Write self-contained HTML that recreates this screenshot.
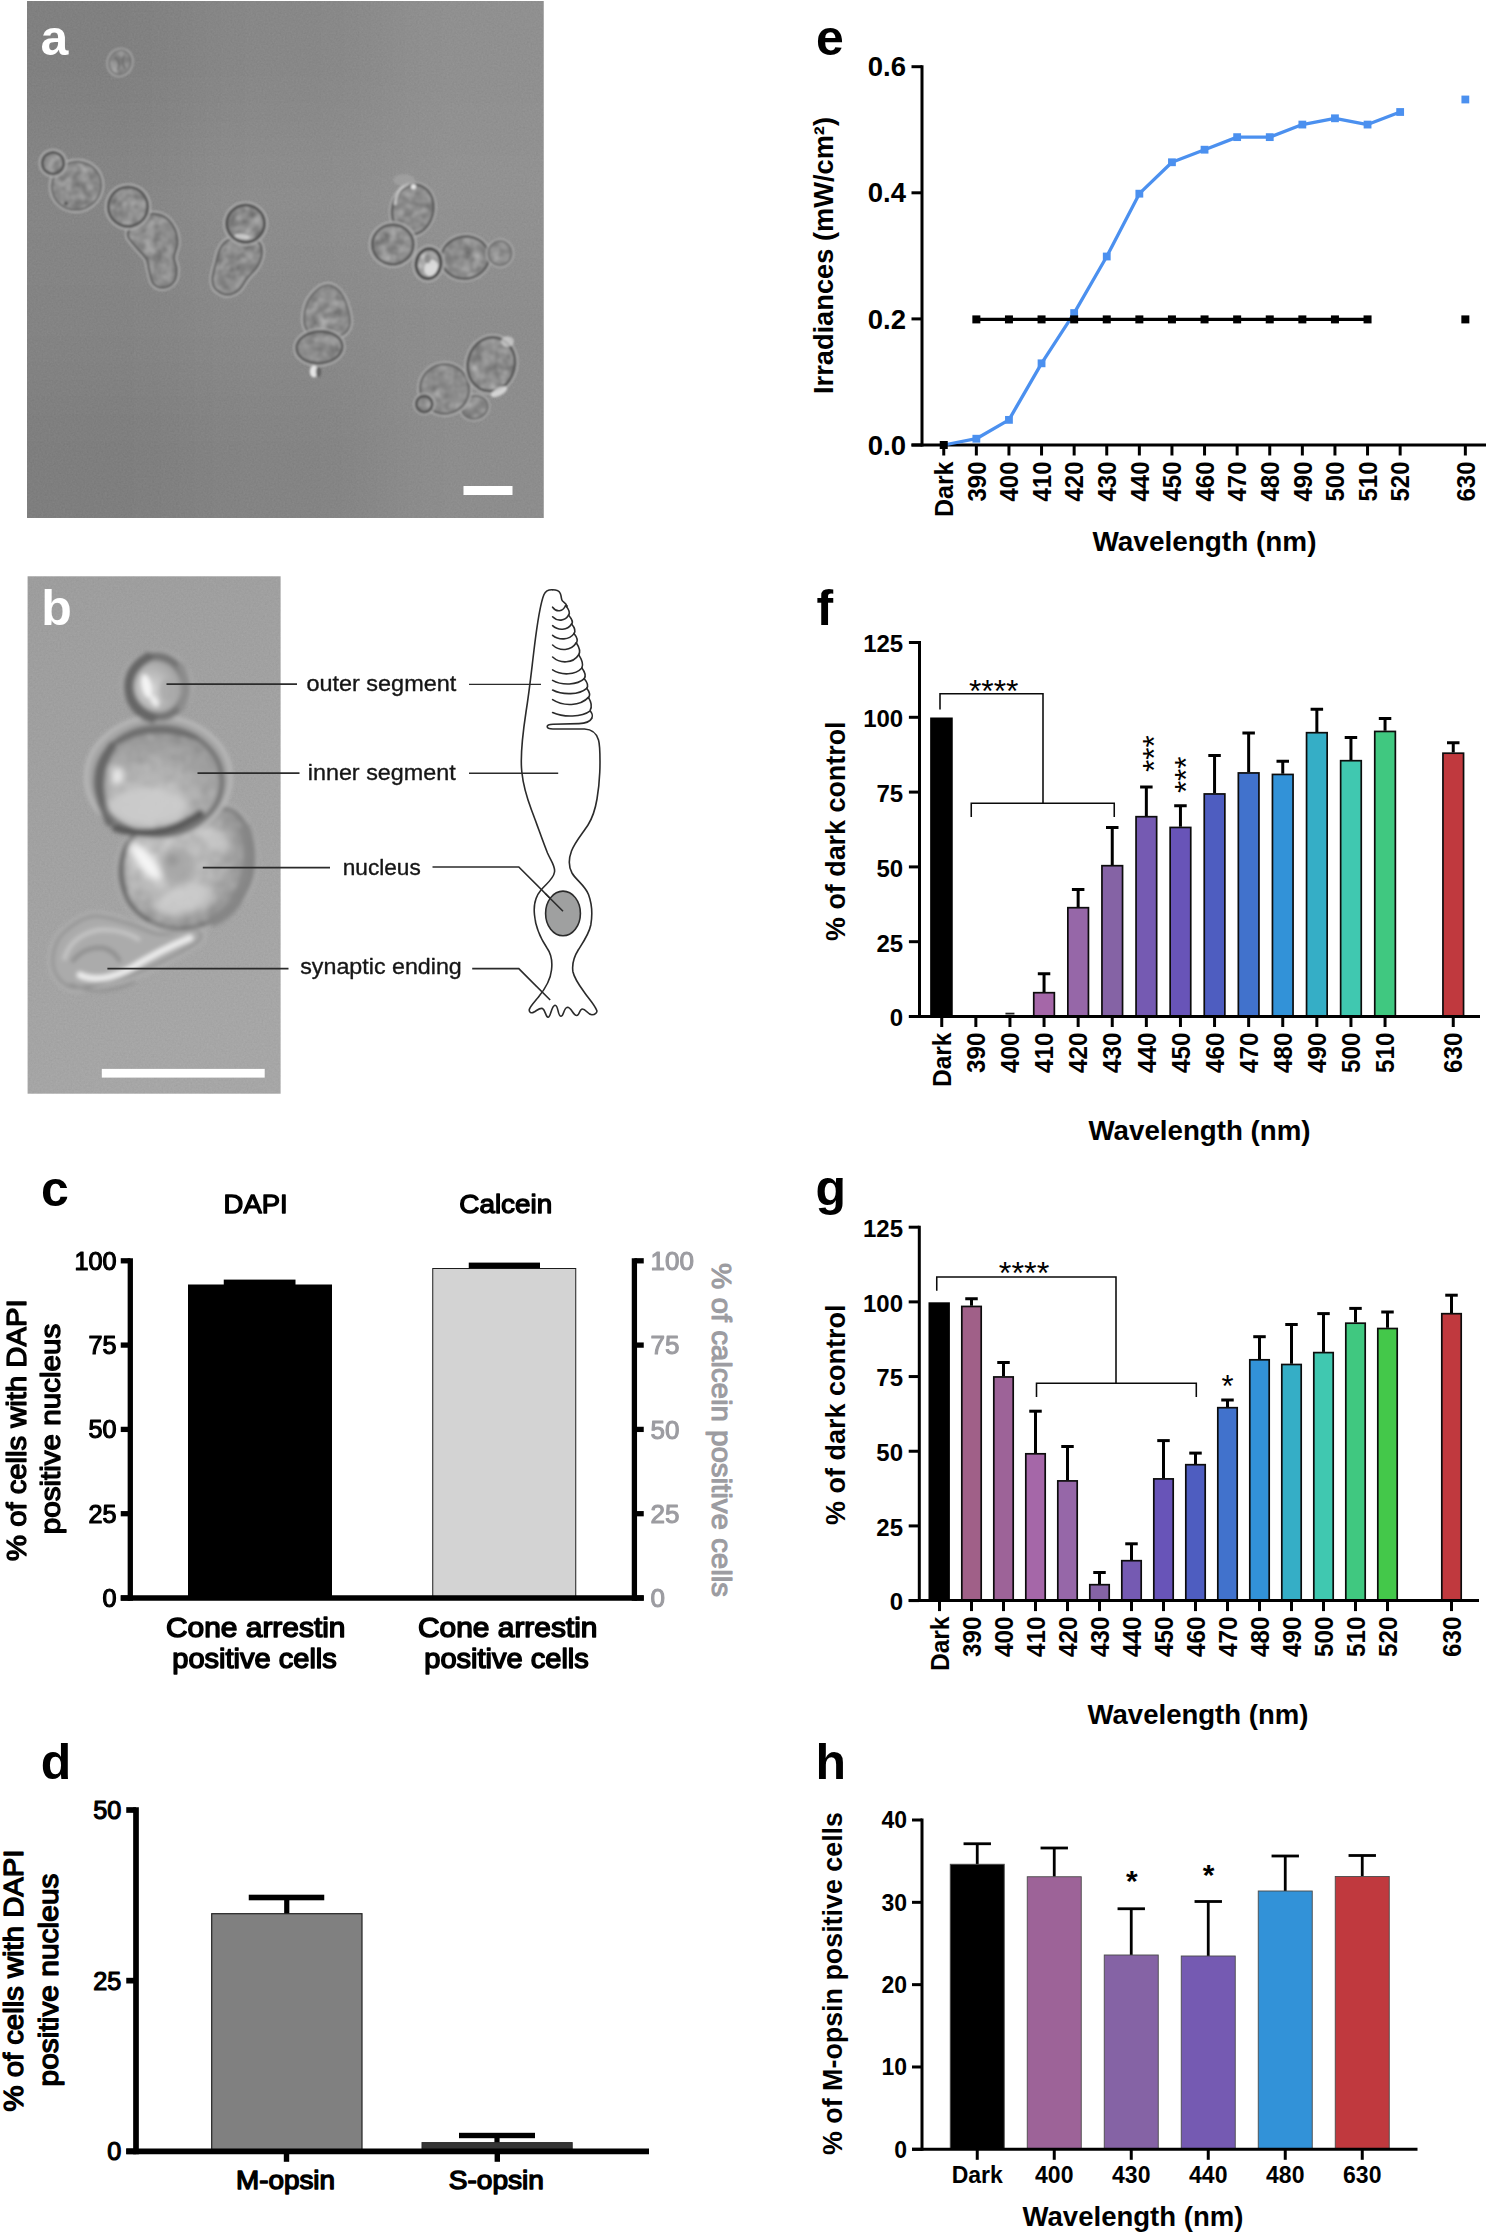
<!DOCTYPE html>
<html lang="en">
<head>
<meta charset="utf-8">
<title>Figure: isolated cone photoreceptors and wavelength-dependent phototoxicity</title>
<style>
html,body{margin:0;padding:0;background:#fff;}
body{width:1492px;height:2237px;overflow:hidden;}
svg{display:block;font-family:"Liberation Sans", Arial, Helvetica, sans-serif;}
text{white-space:pre;}
</style>
</head>
<body>
<svg width="1492" height="2237" viewBox="0 0 1492 2237">
<rect x="0" y="0" width="1492" height="2237" fill="#ffffff"/>
<g id="panel-e">
<text x="816.10" y="55.20" font-size="50" font-weight="bold" fill="#000" text-anchor="start">e</text>
<line x1="922.00" y1="65.20" x2="922.00" y2="446.50" stroke="#000" stroke-width="3.0" stroke-linecap="butt"/>
<line x1="911.50" y1="445.00" x2="1486.00" y2="445.00" stroke="#000" stroke-width="3.0" stroke-linecap="butt"/>
<line x1="911.50" y1="66.70" x2="922.00" y2="66.70" stroke="#000" stroke-width="3.0" stroke-linecap="butt"/>
<text x="906.00" y="76.30" font-size="27.5" font-weight="bold" fill="#000" text-anchor="end">0.6</text>
<line x1="911.50" y1="192.80" x2="922.00" y2="192.80" stroke="#000" stroke-width="3.0" stroke-linecap="butt"/>
<text x="906.00" y="202.40" font-size="27.5" font-weight="bold" fill="#000" text-anchor="end">0.4</text>
<line x1="911.50" y1="318.90" x2="922.00" y2="318.90" stroke="#000" stroke-width="3.0" stroke-linecap="butt"/>
<text x="906.00" y="328.50" font-size="27.5" font-weight="bold" fill="#000" text-anchor="end">0.2</text>
<line x1="911.50" y1="445.00" x2="922.00" y2="445.00" stroke="#000" stroke-width="3.0" stroke-linecap="butt"/>
<text x="906.00" y="454.60" font-size="27.5" font-weight="bold" fill="#000" text-anchor="end">0.0</text>
<line x1="943.75" y1="445.00" x2="943.75" y2="455.50" stroke="#000" stroke-width="3.0" stroke-linecap="butt"/>
<line x1="976.35" y1="445.00" x2="976.35" y2="455.50" stroke="#000" stroke-width="3.0" stroke-linecap="butt"/>
<line x1="1008.95" y1="445.00" x2="1008.95" y2="455.50" stroke="#000" stroke-width="3.0" stroke-linecap="butt"/>
<line x1="1041.55" y1="445.00" x2="1041.55" y2="455.50" stroke="#000" stroke-width="3.0" stroke-linecap="butt"/>
<line x1="1074.15" y1="445.00" x2="1074.15" y2="455.50" stroke="#000" stroke-width="3.0" stroke-linecap="butt"/>
<line x1="1106.75" y1="445.00" x2="1106.75" y2="455.50" stroke="#000" stroke-width="3.0" stroke-linecap="butt"/>
<line x1="1139.35" y1="445.00" x2="1139.35" y2="455.50" stroke="#000" stroke-width="3.0" stroke-linecap="butt"/>
<line x1="1171.95" y1="445.00" x2="1171.95" y2="455.50" stroke="#000" stroke-width="3.0" stroke-linecap="butt"/>
<line x1="1204.55" y1="445.00" x2="1204.55" y2="455.50" stroke="#000" stroke-width="3.0" stroke-linecap="butt"/>
<line x1="1237.15" y1="445.00" x2="1237.15" y2="455.50" stroke="#000" stroke-width="3.0" stroke-linecap="butt"/>
<line x1="1269.75" y1="445.00" x2="1269.75" y2="455.50" stroke="#000" stroke-width="3.0" stroke-linecap="butt"/>
<line x1="1302.35" y1="445.00" x2="1302.35" y2="455.50" stroke="#000" stroke-width="3.0" stroke-linecap="butt"/>
<line x1="1334.95" y1="445.00" x2="1334.95" y2="455.50" stroke="#000" stroke-width="3.0" stroke-linecap="butt"/>
<line x1="1367.55" y1="445.00" x2="1367.55" y2="455.50" stroke="#000" stroke-width="3.0" stroke-linecap="butt"/>
<line x1="1400.15" y1="445.00" x2="1400.15" y2="455.50" stroke="#000" stroke-width="3.0" stroke-linecap="butt"/>
<line x1="1465.35" y1="445.00" x2="1465.35" y2="455.50" stroke="#000" stroke-width="3.0" stroke-linecap="butt"/>
<text transform="translate(952.95,461.50) rotate(-90)" font-size="26" font-weight="bold" fill="#000" text-anchor="end" textLength="55.5" lengthAdjust="spacingAndGlyphs">Dark</text>
<text transform="translate(985.55,461.50) rotate(-90)" font-size="26" font-weight="bold" fill="#000" text-anchor="end" textLength="40.0" lengthAdjust="spacingAndGlyphs">390</text>
<text transform="translate(1018.15,461.50) rotate(-90)" font-size="26" font-weight="bold" fill="#000" text-anchor="end" textLength="40.0" lengthAdjust="spacingAndGlyphs">400</text>
<text transform="translate(1050.75,461.50) rotate(-90)" font-size="26" font-weight="bold" fill="#000" text-anchor="end" textLength="40.0" lengthAdjust="spacingAndGlyphs">410</text>
<text transform="translate(1083.35,461.50) rotate(-90)" font-size="26" font-weight="bold" fill="#000" text-anchor="end" textLength="40.0" lengthAdjust="spacingAndGlyphs">420</text>
<text transform="translate(1115.95,461.50) rotate(-90)" font-size="26" font-weight="bold" fill="#000" text-anchor="end" textLength="40.0" lengthAdjust="spacingAndGlyphs">430</text>
<text transform="translate(1148.55,461.50) rotate(-90)" font-size="26" font-weight="bold" fill="#000" text-anchor="end" textLength="40.0" lengthAdjust="spacingAndGlyphs">440</text>
<text transform="translate(1181.15,461.50) rotate(-90)" font-size="26" font-weight="bold" fill="#000" text-anchor="end" textLength="40.0" lengthAdjust="spacingAndGlyphs">450</text>
<text transform="translate(1213.75,461.50) rotate(-90)" font-size="26" font-weight="bold" fill="#000" text-anchor="end" textLength="40.0" lengthAdjust="spacingAndGlyphs">460</text>
<text transform="translate(1246.35,461.50) rotate(-90)" font-size="26" font-weight="bold" fill="#000" text-anchor="end" textLength="40.0" lengthAdjust="spacingAndGlyphs">470</text>
<text transform="translate(1278.95,461.50) rotate(-90)" font-size="26" font-weight="bold" fill="#000" text-anchor="end" textLength="40.0" lengthAdjust="spacingAndGlyphs">480</text>
<text transform="translate(1311.55,461.50) rotate(-90)" font-size="26" font-weight="bold" fill="#000" text-anchor="end" textLength="40.0" lengthAdjust="spacingAndGlyphs">490</text>
<text transform="translate(1344.15,461.50) rotate(-90)" font-size="26" font-weight="bold" fill="#000" text-anchor="end" textLength="40.0" lengthAdjust="spacingAndGlyphs">500</text>
<text transform="translate(1376.75,461.50) rotate(-90)" font-size="26" font-weight="bold" fill="#000" text-anchor="end" textLength="40.0" lengthAdjust="spacingAndGlyphs">510</text>
<text transform="translate(1409.35,461.50) rotate(-90)" font-size="26" font-weight="bold" fill="#000" text-anchor="end" textLength="40.0" lengthAdjust="spacingAndGlyphs">520</text>
<text transform="translate(1474.55,461.50) rotate(-90)" font-size="26" font-weight="bold" fill="#000" text-anchor="end" textLength="40.0" lengthAdjust="spacingAndGlyphs">630</text>
<text x="1204.50" y="551.00" font-size="27" font-weight="bold" fill="#000" text-anchor="middle" textLength="224" lengthAdjust="spacingAndGlyphs">Wavelength (nm)</text>
<text transform="translate(833.30,255.50) rotate(-90)" font-size="27" font-weight="bold" fill="#000" text-anchor="middle" textLength="277" lengthAdjust="spacingAndGlyphs">Irradiances (mW/cm²)</text>
<polyline points="943.75,445.00 976.35,438.72 1008.95,419.87 1041.55,363.32 1074.15,313.06 1106.75,256.51 1139.35,193.68 1171.95,162.27 1204.55,149.70 1237.15,137.14 1269.75,137.14 1302.35,124.57 1334.95,118.29 1367.55,124.57 1400.15,112.00" fill="none" stroke="#4b90ef" stroke-width="3.3" stroke-linejoin="round"/>
<rect x="972.45" y="434.82" width="7.80" height="7.80" fill="#4b90ef"/>
<rect x="1005.05" y="415.97" width="7.80" height="7.80" fill="#4b90ef"/>
<rect x="1037.65" y="359.42" width="7.80" height="7.80" fill="#4b90ef"/>
<rect x="1070.25" y="309.16" width="7.80" height="7.80" fill="#4b90ef"/>
<rect x="1102.85" y="252.61" width="7.80" height="7.80" fill="#4b90ef"/>
<rect x="1135.45" y="189.78" width="7.80" height="7.80" fill="#4b90ef"/>
<rect x="1168.05" y="158.37" width="7.80" height="7.80" fill="#4b90ef"/>
<rect x="1200.65" y="145.80" width="7.80" height="7.80" fill="#4b90ef"/>
<rect x="1233.25" y="133.24" width="7.80" height="7.80" fill="#4b90ef"/>
<rect x="1265.85" y="133.24" width="7.80" height="7.80" fill="#4b90ef"/>
<rect x="1298.45" y="120.67" width="7.80" height="7.80" fill="#4b90ef"/>
<rect x="1331.05" y="114.39" width="7.80" height="7.80" fill="#4b90ef"/>
<rect x="1363.65" y="120.67" width="7.80" height="7.80" fill="#4b90ef"/>
<rect x="1396.25" y="108.10" width="7.80" height="7.80" fill="#4b90ef"/>
<rect x="1461.45" y="95.59" width="7.80" height="7.80" fill="#4b90ef"/>
<line x1="976.35" y1="319.40" x2="1367.55" y2="319.40" stroke="#000" stroke-width="3.2" stroke-linecap="butt"/>
<rect x="972.35" y="315.40" width="8.00" height="8.00" fill="#000"/>
<rect x="1004.95" y="315.40" width="8.00" height="8.00" fill="#000"/>
<rect x="1037.55" y="315.40" width="8.00" height="8.00" fill="#000"/>
<rect x="1070.15" y="315.40" width="8.00" height="8.00" fill="#000"/>
<rect x="1102.75" y="315.40" width="8.00" height="8.00" fill="#000"/>
<rect x="1135.35" y="315.40" width="8.00" height="8.00" fill="#000"/>
<rect x="1167.95" y="315.40" width="8.00" height="8.00" fill="#000"/>
<rect x="1200.55" y="315.40" width="8.00" height="8.00" fill="#000"/>
<rect x="1233.15" y="315.40" width="8.00" height="8.00" fill="#000"/>
<rect x="1265.75" y="315.40" width="8.00" height="8.00" fill="#000"/>
<rect x="1298.35" y="315.40" width="8.00" height="8.00" fill="#000"/>
<rect x="1330.95" y="315.40" width="8.00" height="8.00" fill="#000"/>
<rect x="1363.55" y="315.40" width="8.00" height="8.00" fill="#000"/>
<rect x="1461.35" y="315.40" width="8.00" height="8.00" fill="#000"/>
<rect x="939.75" y="441.00" width="8.00" height="8.00" fill="#000"/>
</g>
<g id="panel-f">
<text x="816.40" y="624.90" font-size="50" font-weight="bold" fill="#000" text-anchor="start">f</text>
<rect x="930.15" y="717.50" width="22.60" height="299.00" fill="#000"/>
<line x1="1044.05" y1="973.75" x2="1044.05" y2="992.00" stroke="#000" stroke-width="3.0" stroke-linecap="butt"/>
<line x1="1037.80" y1="973.75" x2="1050.30" y2="973.75" stroke="#000" stroke-width="3.0" stroke-linecap="butt"/>
<rect x="1033.75" y="992.70" width="20.60" height="23.80" fill="#a567a8" stroke="#0c0c0c" stroke-width="1.7"/>
<line x1="1078.15" y1="889.50" x2="1078.15" y2="907.00" stroke="#000" stroke-width="3.0" stroke-linecap="butt"/>
<line x1="1071.90" y1="889.50" x2="1084.40" y2="889.50" stroke="#000" stroke-width="3.0" stroke-linecap="butt"/>
<rect x="1067.85" y="907.70" width="20.60" height="108.80" fill="#9667a8" stroke="#0c0c0c" stroke-width="1.7"/>
<line x1="1112.25" y1="827.50" x2="1112.25" y2="865.00" stroke="#000" stroke-width="3.0" stroke-linecap="butt"/>
<line x1="1106.00" y1="827.50" x2="1118.50" y2="827.50" stroke="#000" stroke-width="3.0" stroke-linecap="butt"/>
<rect x="1101.95" y="865.70" width="20.60" height="150.80" fill="#8563a5" stroke="#0c0c0c" stroke-width="1.7"/>
<line x1="1146.35" y1="787.00" x2="1146.35" y2="816.00" stroke="#000" stroke-width="3.0" stroke-linecap="butt"/>
<line x1="1140.10" y1="787.00" x2="1152.60" y2="787.00" stroke="#000" stroke-width="3.0" stroke-linecap="butt"/>
<rect x="1136.05" y="816.70" width="20.60" height="199.80" fill="#755ab2" stroke="#0c0c0c" stroke-width="1.7"/>
<line x1="1180.45" y1="805.75" x2="1180.45" y2="826.75" stroke="#000" stroke-width="3.0" stroke-linecap="butt"/>
<line x1="1174.20" y1="805.75" x2="1186.70" y2="805.75" stroke="#000" stroke-width="3.0" stroke-linecap="butt"/>
<rect x="1170.15" y="827.45" width="20.60" height="189.05" fill="#6854b8" stroke="#0c0c0c" stroke-width="1.7"/>
<line x1="1214.55" y1="755.50" x2="1214.55" y2="793.25" stroke="#000" stroke-width="3.0" stroke-linecap="butt"/>
<line x1="1208.30" y1="755.50" x2="1220.80" y2="755.50" stroke="#000" stroke-width="3.0" stroke-linecap="butt"/>
<rect x="1204.25" y="793.95" width="20.60" height="222.55" fill="#4e5dc0" stroke="#0c0c0c" stroke-width="1.7"/>
<line x1="1248.65" y1="733.00" x2="1248.65" y2="772.25" stroke="#000" stroke-width="3.0" stroke-linecap="butt"/>
<line x1="1242.40" y1="733.00" x2="1254.90" y2="733.00" stroke="#000" stroke-width="3.0" stroke-linecap="butt"/>
<rect x="1238.35" y="772.95" width="20.60" height="243.55" fill="#4172cc" stroke="#0c0c0c" stroke-width="1.7"/>
<line x1="1282.75" y1="761.25" x2="1282.75" y2="773.75" stroke="#000" stroke-width="3.0" stroke-linecap="butt"/>
<line x1="1276.50" y1="761.25" x2="1289.00" y2="761.25" stroke="#000" stroke-width="3.0" stroke-linecap="butt"/>
<rect x="1272.45" y="774.45" width="20.60" height="242.05" fill="#3292d8" stroke="#0c0c0c" stroke-width="1.7"/>
<line x1="1316.85" y1="709.25" x2="1316.85" y2="732.00" stroke="#000" stroke-width="3.0" stroke-linecap="butt"/>
<line x1="1310.60" y1="709.25" x2="1323.10" y2="709.25" stroke="#000" stroke-width="3.0" stroke-linecap="butt"/>
<rect x="1306.55" y="732.70" width="20.60" height="283.80" fill="#35aec6" stroke="#0c0c0c" stroke-width="1.7"/>
<line x1="1350.95" y1="737.50" x2="1350.95" y2="760.00" stroke="#000" stroke-width="3.0" stroke-linecap="butt"/>
<line x1="1344.70" y1="737.50" x2="1357.20" y2="737.50" stroke="#000" stroke-width="3.0" stroke-linecap="butt"/>
<rect x="1340.65" y="760.70" width="20.60" height="255.80" fill="#40c8b0" stroke="#0c0c0c" stroke-width="1.7"/>
<line x1="1385.05" y1="718.50" x2="1385.05" y2="730.75" stroke="#000" stroke-width="3.0" stroke-linecap="butt"/>
<line x1="1378.80" y1="718.50" x2="1391.30" y2="718.50" stroke="#000" stroke-width="3.0" stroke-linecap="butt"/>
<rect x="1374.75" y="731.45" width="20.60" height="285.05" fill="#40c880" stroke="#0c0c0c" stroke-width="1.7"/>
<line x1="1453.25" y1="742.75" x2="1453.25" y2="752.50" stroke="#000" stroke-width="3.0" stroke-linecap="butt"/>
<line x1="1447.00" y1="742.75" x2="1459.50" y2="742.75" stroke="#000" stroke-width="3.0" stroke-linecap="butt"/>
<rect x="1442.95" y="753.20" width="20.60" height="263.30" fill="#c0393e" stroke="#0c0c0c" stroke-width="1.7"/>
<line x1="919.50" y1="641.00" x2="919.50" y2="1018.00" stroke="#000" stroke-width="3.0" stroke-linecap="butt"/>
<line x1="908.90" y1="1016.50" x2="1480.00" y2="1016.50" stroke="#000" stroke-width="3.0" stroke-linecap="butt"/>
<line x1="908.90" y1="642.50" x2="919.50" y2="642.50" stroke="#000" stroke-width="3.0" stroke-linecap="butt"/>
<text x="903.20" y="652.30" font-size="24" font-weight="bold" fill="#000" text-anchor="end">125</text>
<line x1="908.90" y1="717.30" x2="919.50" y2="717.30" stroke="#000" stroke-width="3.0" stroke-linecap="butt"/>
<text x="903.20" y="727.10" font-size="24" font-weight="bold" fill="#000" text-anchor="end">100</text>
<line x1="908.90" y1="792.10" x2="919.50" y2="792.10" stroke="#000" stroke-width="3.0" stroke-linecap="butt"/>
<text x="903.20" y="801.90" font-size="24" font-weight="bold" fill="#000" text-anchor="end">75</text>
<line x1="908.90" y1="866.90" x2="919.50" y2="866.90" stroke="#000" stroke-width="3.0" stroke-linecap="butt"/>
<text x="903.20" y="876.70" font-size="24" font-weight="bold" fill="#000" text-anchor="end">50</text>
<line x1="908.90" y1="941.70" x2="919.50" y2="941.70" stroke="#000" stroke-width="3.0" stroke-linecap="butt"/>
<text x="903.20" y="951.50" font-size="24" font-weight="bold" fill="#000" text-anchor="end">25</text>
<line x1="908.90" y1="1016.50" x2="919.50" y2="1016.50" stroke="#000" stroke-width="3.0" stroke-linecap="butt"/>
<text x="903.20" y="1026.30" font-size="24" font-weight="bold" fill="#000" text-anchor="end">0</text>
<line x1="941.75" y1="1016.50" x2="941.75" y2="1027.00" stroke="#000" stroke-width="3.0" stroke-linecap="butt"/>
<line x1="975.85" y1="1016.50" x2="975.85" y2="1027.00" stroke="#000" stroke-width="3.0" stroke-linecap="butt"/>
<line x1="1009.95" y1="1016.50" x2="1009.95" y2="1027.00" stroke="#000" stroke-width="3.0" stroke-linecap="butt"/>
<line x1="1044.05" y1="1016.50" x2="1044.05" y2="1027.00" stroke="#000" stroke-width="3.0" stroke-linecap="butt"/>
<line x1="1078.15" y1="1016.50" x2="1078.15" y2="1027.00" stroke="#000" stroke-width="3.0" stroke-linecap="butt"/>
<line x1="1112.25" y1="1016.50" x2="1112.25" y2="1027.00" stroke="#000" stroke-width="3.0" stroke-linecap="butt"/>
<line x1="1146.35" y1="1016.50" x2="1146.35" y2="1027.00" stroke="#000" stroke-width="3.0" stroke-linecap="butt"/>
<line x1="1180.45" y1="1016.50" x2="1180.45" y2="1027.00" stroke="#000" stroke-width="3.0" stroke-linecap="butt"/>
<line x1="1214.55" y1="1016.50" x2="1214.55" y2="1027.00" stroke="#000" stroke-width="3.0" stroke-linecap="butt"/>
<line x1="1248.65" y1="1016.50" x2="1248.65" y2="1027.00" stroke="#000" stroke-width="3.0" stroke-linecap="butt"/>
<line x1="1282.75" y1="1016.50" x2="1282.75" y2="1027.00" stroke="#000" stroke-width="3.0" stroke-linecap="butt"/>
<line x1="1316.85" y1="1016.50" x2="1316.85" y2="1027.00" stroke="#000" stroke-width="3.0" stroke-linecap="butt"/>
<line x1="1350.95" y1="1016.50" x2="1350.95" y2="1027.00" stroke="#000" stroke-width="3.0" stroke-linecap="butt"/>
<line x1="1385.05" y1="1016.50" x2="1385.05" y2="1027.00" stroke="#000" stroke-width="3.0" stroke-linecap="butt"/>
<line x1="1453.25" y1="1016.50" x2="1453.25" y2="1027.00" stroke="#000" stroke-width="3.0" stroke-linecap="butt"/>
<text transform="translate(950.95,1032.50) rotate(-90)" font-size="26" font-weight="bold" fill="#000" text-anchor="end" textLength="54.5" lengthAdjust="spacingAndGlyphs">Dark</text>
<text transform="translate(985.05,1032.50) rotate(-90)" font-size="26" font-weight="bold" fill="#000" text-anchor="end" textLength="40.5" lengthAdjust="spacingAndGlyphs">390</text>
<text transform="translate(1019.15,1032.50) rotate(-90)" font-size="26" font-weight="bold" fill="#000" text-anchor="end" textLength="40.5" lengthAdjust="spacingAndGlyphs">400</text>
<text transform="translate(1053.25,1032.50) rotate(-90)" font-size="26" font-weight="bold" fill="#000" text-anchor="end" textLength="40.5" lengthAdjust="spacingAndGlyphs">410</text>
<text transform="translate(1087.35,1032.50) rotate(-90)" font-size="26" font-weight="bold" fill="#000" text-anchor="end" textLength="40.5" lengthAdjust="spacingAndGlyphs">420</text>
<text transform="translate(1121.45,1032.50) rotate(-90)" font-size="26" font-weight="bold" fill="#000" text-anchor="end" textLength="40.5" lengthAdjust="spacingAndGlyphs">430</text>
<text transform="translate(1155.55,1032.50) rotate(-90)" font-size="26" font-weight="bold" fill="#000" text-anchor="end" textLength="40.5" lengthAdjust="spacingAndGlyphs">440</text>
<text transform="translate(1189.65,1032.50) rotate(-90)" font-size="26" font-weight="bold" fill="#000" text-anchor="end" textLength="40.5" lengthAdjust="spacingAndGlyphs">450</text>
<text transform="translate(1223.75,1032.50) rotate(-90)" font-size="26" font-weight="bold" fill="#000" text-anchor="end" textLength="40.5" lengthAdjust="spacingAndGlyphs">460</text>
<text transform="translate(1257.85,1032.50) rotate(-90)" font-size="26" font-weight="bold" fill="#000" text-anchor="end" textLength="40.5" lengthAdjust="spacingAndGlyphs">470</text>
<text transform="translate(1291.95,1032.50) rotate(-90)" font-size="26" font-weight="bold" fill="#000" text-anchor="end" textLength="40.5" lengthAdjust="spacingAndGlyphs">480</text>
<text transform="translate(1326.05,1032.50) rotate(-90)" font-size="26" font-weight="bold" fill="#000" text-anchor="end" textLength="40.5" lengthAdjust="spacingAndGlyphs">490</text>
<text transform="translate(1360.15,1032.50) rotate(-90)" font-size="26" font-weight="bold" fill="#000" text-anchor="end" textLength="40.5" lengthAdjust="spacingAndGlyphs">500</text>
<text transform="translate(1394.25,1032.50) rotate(-90)" font-size="26" font-weight="bold" fill="#000" text-anchor="end" textLength="40.5" lengthAdjust="spacingAndGlyphs">510</text>
<text transform="translate(1462.45,1032.50) rotate(-90)" font-size="26" font-weight="bold" fill="#000" text-anchor="end" textLength="40.5" lengthAdjust="spacingAndGlyphs">630</text>
<text x="1199.50" y="1140.00" font-size="27" font-weight="bold" fill="#000" text-anchor="middle" textLength="222" lengthAdjust="spacingAndGlyphs">Wavelength (nm)</text>
<text transform="translate(844.50,831.20) rotate(-90)" font-size="27" font-weight="bold" fill="#000" text-anchor="middle" textLength="219.5" lengthAdjust="spacingAndGlyphs">% of dark control</text>
</g>
<line x1="1005.45" y1="1013.60" x2="1014.45" y2="1013.60" stroke="#222" stroke-width="1.8" stroke-linecap="butt"/>
<g id="f-brackets" fill="none" stroke="#0a0a0a" stroke-width="1.55">
<path d="M940,709.5 V693.75 H1043 V803.25"/>
<path d="M971.25,817 V803.25 H1114.25 V817"/>
</g>
<text x="969.00" y="701.60" font-size="31" font-weight="normal" fill="#000" text-anchor="start" textLength="49.5" lengthAdjust="spacingAndGlyphs">****</text>
<text transform="translate(1165.10,771.90) rotate(-90)" font-size="31" font-weight="normal" fill="#000" text-anchor="start" textLength="36.5" lengthAdjust="spacingAndGlyphs">***</text>
<text transform="translate(1196.60,793.10) rotate(-90)" font-size="31" font-weight="normal" fill="#000" text-anchor="start" textLength="36.5" lengthAdjust="spacingAndGlyphs">***</text>
<g id="panel-g">
<text x="815.60" y="1204.50" font-size="50" font-weight="bold" fill="#000" text-anchor="start">g</text>
<rect x="928.50" y="1302.30" width="21.40" height="298.30" fill="#000"/>
<line x1="971.50" y1="1298.75" x2="971.50" y2="1305.75" stroke="#000" stroke-width="3.0" stroke-linecap="butt"/>
<line x1="965.25" y1="1298.75" x2="977.75" y2="1298.75" stroke="#000" stroke-width="3.0" stroke-linecap="butt"/>
<rect x="961.80" y="1306.45" width="19.40" height="294.15" fill="#a06088" stroke="#0c0c0c" stroke-width="1.7"/>
<line x1="1003.50" y1="1362.50" x2="1003.50" y2="1376.25" stroke="#000" stroke-width="3.0" stroke-linecap="butt"/>
<line x1="997.25" y1="1362.50" x2="1009.75" y2="1362.50" stroke="#000" stroke-width="3.0" stroke-linecap="butt"/>
<rect x="993.80" y="1376.95" width="19.40" height="223.65" fill="#9d6398" stroke="#0c0c0c" stroke-width="1.7"/>
<line x1="1035.50" y1="1411.20" x2="1035.50" y2="1453.10" stroke="#000" stroke-width="3.0" stroke-linecap="butt"/>
<line x1="1029.25" y1="1411.20" x2="1041.75" y2="1411.20" stroke="#000" stroke-width="3.0" stroke-linecap="butt"/>
<rect x="1025.80" y="1453.80" width="19.40" height="146.80" fill="#a567a8" stroke="#0c0c0c" stroke-width="1.7"/>
<line x1="1067.50" y1="1446.50" x2="1067.50" y2="1480.20" stroke="#000" stroke-width="3.0" stroke-linecap="butt"/>
<line x1="1061.25" y1="1446.50" x2="1073.75" y2="1446.50" stroke="#000" stroke-width="3.0" stroke-linecap="butt"/>
<rect x="1057.80" y="1480.90" width="19.40" height="119.70" fill="#9667a8" stroke="#0c0c0c" stroke-width="1.7"/>
<line x1="1099.50" y1="1572.50" x2="1099.50" y2="1584.00" stroke="#000" stroke-width="3.0" stroke-linecap="butt"/>
<line x1="1093.25" y1="1572.50" x2="1105.75" y2="1572.50" stroke="#000" stroke-width="3.0" stroke-linecap="butt"/>
<rect x="1089.80" y="1584.70" width="19.40" height="15.90" fill="#8563a5" stroke="#0c0c0c" stroke-width="1.7"/>
<line x1="1131.50" y1="1543.80" x2="1131.50" y2="1560.00" stroke="#000" stroke-width="3.0" stroke-linecap="butt"/>
<line x1="1125.25" y1="1543.80" x2="1137.75" y2="1543.80" stroke="#000" stroke-width="3.0" stroke-linecap="butt"/>
<rect x="1121.80" y="1560.70" width="19.40" height="39.90" fill="#755ab2" stroke="#0c0c0c" stroke-width="1.7"/>
<line x1="1163.50" y1="1440.60" x2="1163.50" y2="1478.20" stroke="#000" stroke-width="3.0" stroke-linecap="butt"/>
<line x1="1157.25" y1="1440.60" x2="1169.75" y2="1440.60" stroke="#000" stroke-width="3.0" stroke-linecap="butt"/>
<rect x="1153.80" y="1478.90" width="19.40" height="121.70" fill="#6854b8" stroke="#0c0c0c" stroke-width="1.7"/>
<line x1="1195.50" y1="1453.10" x2="1195.50" y2="1464.00" stroke="#000" stroke-width="3.0" stroke-linecap="butt"/>
<line x1="1189.25" y1="1453.10" x2="1201.75" y2="1453.10" stroke="#000" stroke-width="3.0" stroke-linecap="butt"/>
<rect x="1185.80" y="1464.70" width="19.40" height="135.90" fill="#4e5dc0" stroke="#0c0c0c" stroke-width="1.7"/>
<line x1="1227.50" y1="1400.00" x2="1227.50" y2="1407.00" stroke="#000" stroke-width="3.0" stroke-linecap="butt"/>
<line x1="1221.25" y1="1400.00" x2="1233.75" y2="1400.00" stroke="#000" stroke-width="3.0" stroke-linecap="butt"/>
<rect x="1217.80" y="1407.70" width="19.40" height="192.90" fill="#4172cc" stroke="#0c0c0c" stroke-width="1.7"/>
<line x1="1259.50" y1="1336.70" x2="1259.50" y2="1359.10" stroke="#000" stroke-width="3.0" stroke-linecap="butt"/>
<line x1="1253.25" y1="1336.70" x2="1265.75" y2="1336.70" stroke="#000" stroke-width="3.0" stroke-linecap="butt"/>
<rect x="1249.80" y="1359.80" width="19.40" height="240.80" fill="#3292d8" stroke="#0c0c0c" stroke-width="1.7"/>
<line x1="1291.50" y1="1324.50" x2="1291.50" y2="1363.80" stroke="#000" stroke-width="3.0" stroke-linecap="butt"/>
<line x1="1285.25" y1="1324.50" x2="1297.75" y2="1324.50" stroke="#000" stroke-width="3.0" stroke-linecap="butt"/>
<rect x="1281.80" y="1364.50" width="19.40" height="236.10" fill="#35aec6" stroke="#0c0c0c" stroke-width="1.7"/>
<line x1="1323.50" y1="1313.60" x2="1323.50" y2="1351.90" stroke="#000" stroke-width="3.0" stroke-linecap="butt"/>
<line x1="1317.25" y1="1313.60" x2="1329.75" y2="1313.60" stroke="#000" stroke-width="3.0" stroke-linecap="butt"/>
<rect x="1313.80" y="1352.60" width="19.40" height="248.00" fill="#40c8b0" stroke="#0c0c0c" stroke-width="1.7"/>
<line x1="1355.50" y1="1308.40" x2="1355.50" y2="1322.50" stroke="#000" stroke-width="3.0" stroke-linecap="butt"/>
<line x1="1349.25" y1="1308.40" x2="1361.75" y2="1308.40" stroke="#000" stroke-width="3.0" stroke-linecap="butt"/>
<rect x="1345.80" y="1323.20" width="19.40" height="277.40" fill="#40c880" stroke="#0c0c0c" stroke-width="1.7"/>
<line x1="1387.50" y1="1312.00" x2="1387.50" y2="1327.80" stroke="#000" stroke-width="3.0" stroke-linecap="butt"/>
<line x1="1381.25" y1="1312.00" x2="1393.75" y2="1312.00" stroke="#000" stroke-width="3.0" stroke-linecap="butt"/>
<rect x="1377.80" y="1328.50" width="19.40" height="272.10" fill="#44c84a" stroke="#0c0c0c" stroke-width="1.7"/>
<line x1="1451.50" y1="1295.20" x2="1451.50" y2="1313.00" stroke="#000" stroke-width="3.0" stroke-linecap="butt"/>
<line x1="1445.25" y1="1295.20" x2="1457.75" y2="1295.20" stroke="#000" stroke-width="3.0" stroke-linecap="butt"/>
<rect x="1441.80" y="1313.70" width="19.40" height="286.90" fill="#c0393e" stroke="#0c0c0c" stroke-width="1.7"/>
<line x1="919.30" y1="1225.70" x2="919.30" y2="1602.10" stroke="#000" stroke-width="3.0" stroke-linecap="butt"/>
<line x1="908.70" y1="1600.60" x2="1479.00" y2="1600.60" stroke="#000" stroke-width="3.0" stroke-linecap="butt"/>
<line x1="908.70" y1="1227.20" x2="919.30" y2="1227.20" stroke="#000" stroke-width="3.0" stroke-linecap="butt"/>
<text x="903.00" y="1237.00" font-size="24" font-weight="bold" fill="#000" text-anchor="end">125</text>
<line x1="908.70" y1="1301.88" x2="919.30" y2="1301.88" stroke="#000" stroke-width="3.0" stroke-linecap="butt"/>
<text x="903.00" y="1311.68" font-size="24" font-weight="bold" fill="#000" text-anchor="end">100</text>
<line x1="908.70" y1="1376.56" x2="919.30" y2="1376.56" stroke="#000" stroke-width="3.0" stroke-linecap="butt"/>
<text x="903.00" y="1386.36" font-size="24" font-weight="bold" fill="#000" text-anchor="end">75</text>
<line x1="908.70" y1="1451.24" x2="919.30" y2="1451.24" stroke="#000" stroke-width="3.0" stroke-linecap="butt"/>
<text x="903.00" y="1461.04" font-size="24" font-weight="bold" fill="#000" text-anchor="end">50</text>
<line x1="908.70" y1="1525.92" x2="919.30" y2="1525.92" stroke="#000" stroke-width="3.0" stroke-linecap="butt"/>
<text x="903.00" y="1535.72" font-size="24" font-weight="bold" fill="#000" text-anchor="end">25</text>
<line x1="908.70" y1="1600.60" x2="919.30" y2="1600.60" stroke="#000" stroke-width="3.0" stroke-linecap="butt"/>
<text x="903.00" y="1610.40" font-size="24" font-weight="bold" fill="#000" text-anchor="end">0</text>
<line x1="939.50" y1="1600.60" x2="939.50" y2="1611.10" stroke="#000" stroke-width="3.0" stroke-linecap="butt"/>
<line x1="971.50" y1="1600.60" x2="971.50" y2="1611.10" stroke="#000" stroke-width="3.0" stroke-linecap="butt"/>
<line x1="1003.50" y1="1600.60" x2="1003.50" y2="1611.10" stroke="#000" stroke-width="3.0" stroke-linecap="butt"/>
<line x1="1035.50" y1="1600.60" x2="1035.50" y2="1611.10" stroke="#000" stroke-width="3.0" stroke-linecap="butt"/>
<line x1="1067.50" y1="1600.60" x2="1067.50" y2="1611.10" stroke="#000" stroke-width="3.0" stroke-linecap="butt"/>
<line x1="1099.50" y1="1600.60" x2="1099.50" y2="1611.10" stroke="#000" stroke-width="3.0" stroke-linecap="butt"/>
<line x1="1131.50" y1="1600.60" x2="1131.50" y2="1611.10" stroke="#000" stroke-width="3.0" stroke-linecap="butt"/>
<line x1="1163.50" y1="1600.60" x2="1163.50" y2="1611.10" stroke="#000" stroke-width="3.0" stroke-linecap="butt"/>
<line x1="1195.50" y1="1600.60" x2="1195.50" y2="1611.10" stroke="#000" stroke-width="3.0" stroke-linecap="butt"/>
<line x1="1227.50" y1="1600.60" x2="1227.50" y2="1611.10" stroke="#000" stroke-width="3.0" stroke-linecap="butt"/>
<line x1="1259.50" y1="1600.60" x2="1259.50" y2="1611.10" stroke="#000" stroke-width="3.0" stroke-linecap="butt"/>
<line x1="1291.50" y1="1600.60" x2="1291.50" y2="1611.10" stroke="#000" stroke-width="3.0" stroke-linecap="butt"/>
<line x1="1323.50" y1="1600.60" x2="1323.50" y2="1611.10" stroke="#000" stroke-width="3.0" stroke-linecap="butt"/>
<line x1="1355.50" y1="1600.60" x2="1355.50" y2="1611.10" stroke="#000" stroke-width="3.0" stroke-linecap="butt"/>
<line x1="1387.50" y1="1600.60" x2="1387.50" y2="1611.10" stroke="#000" stroke-width="3.0" stroke-linecap="butt"/>
<line x1="1451.50" y1="1600.60" x2="1451.50" y2="1611.10" stroke="#000" stroke-width="3.0" stroke-linecap="butt"/>
<text transform="translate(948.70,1616.50) rotate(-90)" font-size="26" font-weight="bold" fill="#000" text-anchor="end" textLength="54.5" lengthAdjust="spacingAndGlyphs">Dark</text>
<text transform="translate(980.70,1616.50) rotate(-90)" font-size="26" font-weight="bold" fill="#000" text-anchor="end" textLength="40.5" lengthAdjust="spacingAndGlyphs">390</text>
<text transform="translate(1012.70,1616.50) rotate(-90)" font-size="26" font-weight="bold" fill="#000" text-anchor="end" textLength="40.5" lengthAdjust="spacingAndGlyphs">400</text>
<text transform="translate(1044.70,1616.50) rotate(-90)" font-size="26" font-weight="bold" fill="#000" text-anchor="end" textLength="40.5" lengthAdjust="spacingAndGlyphs">410</text>
<text transform="translate(1076.70,1616.50) rotate(-90)" font-size="26" font-weight="bold" fill="#000" text-anchor="end" textLength="40.5" lengthAdjust="spacingAndGlyphs">420</text>
<text transform="translate(1108.70,1616.50) rotate(-90)" font-size="26" font-weight="bold" fill="#000" text-anchor="end" textLength="40.5" lengthAdjust="spacingAndGlyphs">430</text>
<text transform="translate(1140.70,1616.50) rotate(-90)" font-size="26" font-weight="bold" fill="#000" text-anchor="end" textLength="40.5" lengthAdjust="spacingAndGlyphs">440</text>
<text transform="translate(1172.70,1616.50) rotate(-90)" font-size="26" font-weight="bold" fill="#000" text-anchor="end" textLength="40.5" lengthAdjust="spacingAndGlyphs">450</text>
<text transform="translate(1204.70,1616.50) rotate(-90)" font-size="26" font-weight="bold" fill="#000" text-anchor="end" textLength="40.5" lengthAdjust="spacingAndGlyphs">460</text>
<text transform="translate(1236.70,1616.50) rotate(-90)" font-size="26" font-weight="bold" fill="#000" text-anchor="end" textLength="40.5" lengthAdjust="spacingAndGlyphs">470</text>
<text transform="translate(1268.70,1616.50) rotate(-90)" font-size="26" font-weight="bold" fill="#000" text-anchor="end" textLength="40.5" lengthAdjust="spacingAndGlyphs">480</text>
<text transform="translate(1300.70,1616.50) rotate(-90)" font-size="26" font-weight="bold" fill="#000" text-anchor="end" textLength="40.5" lengthAdjust="spacingAndGlyphs">490</text>
<text transform="translate(1332.70,1616.50) rotate(-90)" font-size="26" font-weight="bold" fill="#000" text-anchor="end" textLength="40.5" lengthAdjust="spacingAndGlyphs">500</text>
<text transform="translate(1364.70,1616.50) rotate(-90)" font-size="26" font-weight="bold" fill="#000" text-anchor="end" textLength="40.5" lengthAdjust="spacingAndGlyphs">510</text>
<text transform="translate(1396.70,1616.50) rotate(-90)" font-size="26" font-weight="bold" fill="#000" text-anchor="end" textLength="40.5" lengthAdjust="spacingAndGlyphs">520</text>
<text transform="translate(1460.70,1616.50) rotate(-90)" font-size="26" font-weight="bold" fill="#000" text-anchor="end" textLength="40.5" lengthAdjust="spacingAndGlyphs">630</text>
<text x="1198.00" y="1724.00" font-size="27" font-weight="bold" fill="#000" text-anchor="middle" textLength="221" lengthAdjust="spacingAndGlyphs">Wavelength (nm)</text>
<text transform="translate(844.50,1414.70) rotate(-90)" font-size="27" font-weight="bold" fill="#000" text-anchor="middle" textLength="220.5" lengthAdjust="spacingAndGlyphs">% of dark control</text>
</g>
<g id="g-brackets" fill="none" stroke="#0a0a0a" stroke-width="1.55">
<path d="M936.75,1290.75 V1277 H1116.0 V1383.3"/>
<path d="M1036.5,1397 V1383.3 H1196.3 V1397"/>
</g>
<text x="998.80" y="1284.40" font-size="31" font-weight="normal" fill="#000" text-anchor="start" textLength="50.5" lengthAdjust="spacingAndGlyphs">****</text>
<text x="1227.50" y="1397.00" font-size="31" font-weight="normal" fill="#000" text-anchor="middle">*</text>
<g id="panel-h">
<text x="815.50" y="1779.00" font-size="50" font-weight="bold" fill="#000" text-anchor="start">h</text>
<line x1="977.25" y1="1843.75" x2="977.25" y2="1864.25" stroke="#000" stroke-width="2.8" stroke-linecap="butt"/>
<line x1="963.55" y1="1843.75" x2="990.95" y2="1843.75" stroke="#000" stroke-width="2.8" stroke-linecap="butt"/>
<rect x="950.25" y="1864.25" width="54.00" height="285.05" fill="#000000" stroke="#4a4a4a" stroke-width="0.9"/>
<line x1="977.25" y1="2149.30" x2="977.25" y2="2159.80" stroke="#000" stroke-width="3.0" stroke-linecap="butt"/>
<text x="977.25" y="2183.30" font-size="23" font-weight="bold" fill="#000" text-anchor="middle">Dark</text>
<line x1="1054.25" y1="1848.00" x2="1054.25" y2="1876.75" stroke="#000" stroke-width="2.8" stroke-linecap="butt"/>
<line x1="1040.55" y1="1848.00" x2="1067.95" y2="1848.00" stroke="#000" stroke-width="2.8" stroke-linecap="butt"/>
<rect x="1027.25" y="1876.75" width="54.00" height="272.55" fill="#9d6398" stroke="#4a4a4a" stroke-width="0.9"/>
<line x1="1054.25" y1="2149.30" x2="1054.25" y2="2159.80" stroke="#000" stroke-width="3.0" stroke-linecap="butt"/>
<text x="1054.25" y="2183.30" font-size="23" font-weight="bold" fill="#000" text-anchor="middle">400</text>
<line x1="1131.25" y1="1908.75" x2="1131.25" y2="1955.00" stroke="#000" stroke-width="2.8" stroke-linecap="butt"/>
<line x1="1117.55" y1="1908.75" x2="1144.95" y2="1908.75" stroke="#000" stroke-width="2.8" stroke-linecap="butt"/>
<rect x="1104.25" y="1955.00" width="54.00" height="194.30" fill="#8563a5" stroke="#4a4a4a" stroke-width="0.9"/>
<line x1="1131.25" y1="2149.30" x2="1131.25" y2="2159.80" stroke="#000" stroke-width="3.0" stroke-linecap="butt"/>
<text x="1131.25" y="2183.30" font-size="23" font-weight="bold" fill="#000" text-anchor="middle">430</text>
<line x1="1208.25" y1="1901.50" x2="1208.25" y2="1956.00" stroke="#000" stroke-width="2.8" stroke-linecap="butt"/>
<line x1="1194.55" y1="1901.50" x2="1221.95" y2="1901.50" stroke="#000" stroke-width="2.8" stroke-linecap="butt"/>
<rect x="1181.25" y="1956.00" width="54.00" height="193.30" fill="#755ab2" stroke="#4a4a4a" stroke-width="0.9"/>
<line x1="1208.25" y1="2149.30" x2="1208.25" y2="2159.80" stroke="#000" stroke-width="3.0" stroke-linecap="butt"/>
<text x="1208.25" y="2183.30" font-size="23" font-weight="bold" fill="#000" text-anchor="middle">440</text>
<line x1="1285.25" y1="1856.00" x2="1285.25" y2="1891.00" stroke="#000" stroke-width="2.8" stroke-linecap="butt"/>
<line x1="1271.55" y1="1856.00" x2="1298.95" y2="1856.00" stroke="#000" stroke-width="2.8" stroke-linecap="butt"/>
<rect x="1258.25" y="1891.00" width="54.00" height="258.30" fill="#3292d8" stroke="#4a4a4a" stroke-width="0.9"/>
<line x1="1285.25" y1="2149.30" x2="1285.25" y2="2159.80" stroke="#000" stroke-width="3.0" stroke-linecap="butt"/>
<text x="1285.25" y="2183.30" font-size="23" font-weight="bold" fill="#000" text-anchor="middle">480</text>
<line x1="1362.25" y1="1855.50" x2="1362.25" y2="1876.50" stroke="#000" stroke-width="2.8" stroke-linecap="butt"/>
<line x1="1348.55" y1="1855.50" x2="1375.95" y2="1855.50" stroke="#000" stroke-width="2.8" stroke-linecap="butt"/>
<rect x="1335.25" y="1876.50" width="54.00" height="272.80" fill="#c0393e" stroke="#4a4a4a" stroke-width="0.9"/>
<line x1="1362.25" y1="2149.30" x2="1362.25" y2="2159.80" stroke="#000" stroke-width="3.0" stroke-linecap="butt"/>
<text x="1362.25" y="2183.30" font-size="23" font-weight="bold" fill="#000" text-anchor="middle">630</text>
<line x1="922.00" y1="1818.50" x2="922.00" y2="2150.80" stroke="#000" stroke-width="3.0" stroke-linecap="butt"/>
<line x1="912.00" y1="2149.30" x2="1417.50" y2="2149.30" stroke="#000" stroke-width="3.0" stroke-linecap="butt"/>
<line x1="912.00" y1="1820.00" x2="922.00" y2="1820.00" stroke="#000" stroke-width="3.0" stroke-linecap="butt"/>
<text x="907.00" y="1828.20" font-size="23" font-weight="bold" fill="#000" text-anchor="end">40</text>
<line x1="912.00" y1="1902.33" x2="922.00" y2="1902.33" stroke="#000" stroke-width="3.0" stroke-linecap="butt"/>
<text x="907.00" y="1910.53" font-size="23" font-weight="bold" fill="#000" text-anchor="end">30</text>
<line x1="912.00" y1="1984.65" x2="922.00" y2="1984.65" stroke="#000" stroke-width="3.0" stroke-linecap="butt"/>
<text x="907.00" y="1992.85" font-size="23" font-weight="bold" fill="#000" text-anchor="end">20</text>
<line x1="912.00" y1="2066.98" x2="922.00" y2="2066.98" stroke="#000" stroke-width="3.0" stroke-linecap="butt"/>
<text x="907.00" y="2075.18" font-size="23" font-weight="bold" fill="#000" text-anchor="end">10</text>
<line x1="912.00" y1="2149.30" x2="922.00" y2="2149.30" stroke="#000" stroke-width="3.0" stroke-linecap="butt"/>
<text x="907.00" y="2157.50" font-size="23" font-weight="bold" fill="#000" text-anchor="end">0</text>
<text x="1133.00" y="2226.00" font-size="27" font-weight="bold" fill="#000" text-anchor="middle" textLength="221" lengthAdjust="spacingAndGlyphs">Wavelength (nm)</text>
<text transform="translate(841.50,1983.50) rotate(-90)" font-size="27" font-weight="bold" fill="#000" text-anchor="middle" textLength="343" lengthAdjust="spacingAndGlyphs">% of M-opsin positive cells</text>
<text x="1131.75" y="1891.20" font-size="30" font-weight="bold" fill="#000" text-anchor="middle">*</text>
<text x="1208.50" y="1884.70" font-size="30" font-weight="bold" fill="#000" text-anchor="middle">*</text>
</g>
<defs>
<filter id="bl1" x="-20%" y="-20%" width="140%" height="140%"><feGaussianBlur stdDeviation="0.85"/></filter>
<filter id="bl2" x="-30%" y="-30%" width="160%" height="160%"><feGaussianBlur stdDeviation="2.0"/></filter>
<filter id="bl3" x="-30%" y="-30%" width="160%" height="160%"><feGaussianBlur stdDeviation="3.2"/></filter>
<filter id="bl30" x="-10%" y="-10%" width="120%" height="120%"><feGaussianBlur stdDeviation="40"/></filter>
<filter id="mott" x="0" y="0" width="100%" height="100%" color-interpolation-filters="sRGB">
<feTurbulence type="fractalNoise" baseFrequency="0.11" numOctaves="2" seed="11" result="n"/>
<feColorMatrix in="n" type="matrix" values="0.7 0.7 0 0 -0.15  0.7 0.7 0 0 -0.15  0.7 0.7 0 0 -0.15  0 0 0 0 0.34" result="g"/>
<feComposite in="g" in2="SourceGraphic" operator="in"/>
</filter>
<linearGradient id="bgA" x1="0" y1="1" x2="1" y2="0">
<stop offset="0" stop-color="#7e7e7e"/><stop offset="0.45" stop-color="#8a8a8a"/><stop offset="1" stop-color="#9a9a9a"/>
</linearGradient>
<linearGradient id="bgB" x1="0" y1="0" x2="0.35" y2="1">
<stop offset="0" stop-color="#9f9f9f"/><stop offset="1" stop-color="#a9a9a9"/>
</linearGradient>
<radialGradient id="gOS" cx="0.38" cy="0.5" r="0.6">
<stop offset="0" stop-color="#d6d6d6"/><stop offset="0.55" stop-color="#b4b4b4"/><stop offset="1" stop-color="#9a9a9a"/>
</radialGradient>
<radialGradient id="gIS" cx="0.45" cy="0.72" r="0.62">
<stop offset="0" stop-color="#cacaca"/><stop offset="0.55" stop-color="#b4b4b4"/><stop offset="1" stop-color="#9c9c9c"/>
</radialGradient>
<radialGradient id="gNU" cx="0.36" cy="0.42" r="0.66">
<stop offset="0" stop-color="#d2d2d2"/><stop offset="0.5" stop-color="#bcbcbc"/><stop offset="0.85" stop-color="#9a9a9a"/><stop offset="1" stop-color="#8a8a8a"/>
</radialGradient>
<filter id="grain" x="0" y="0" width="100%" height="100%" color-interpolation-filters="sRGB">
<feTurbulence type="fractalNoise" baseFrequency="0.55" numOctaves="2" seed="4" result="n"/>
<feColorMatrix in="n" type="matrix" values="0.5 0.5 0 0 0  0.5 0.5 0 0 0  0.5 0.5 0 0 0  0 0 0 0 0.07"/>
</filter>
<clipPath id="clipA"><rect x="27" y="1" width="516.5" height="517"/></clipPath>
<clipPath id="clipB"><rect x="27.6" y="576.3" width="253" height="517.4"/></clipPath>
</defs>
<g id="panel-a">
<rect x="27" y="1" width="516.5" height="517" fill="url(#bgA)"/>
<g clip-path="url(#clipA)">
<g filter="url(#bl30)">
<rect x="-120" y="-120" width="308" height="251" fill="rgb(128,128,128)"/>
<rect x="187" y="-120" width="196" height="251" fill="rgb(136,136,136)"/>
<rect x="382" y="-120" width="319" height="251" fill="rgb(145,145,145)"/>
<rect x="-120" y="130" width="308" height="130" fill="rgb(134,134,134)"/>
<rect x="187" y="130" width="196" height="130" fill="rgb(142,142,142)"/>
<rect x="382" y="130" width="319" height="130" fill="rgb(147,147,147)"/>
<rect x="-120" y="259" width="308" height="130" fill="rgb(132,132,132)"/>
<rect x="187" y="259" width="196" height="130" fill="rgb(138,138,138)"/>
<rect x="382" y="259" width="319" height="130" fill="rgb(142,142,142)"/>
<rect x="-120" y="388" width="308" height="253" fill="rgb(126,126,126)"/>
<rect x="187" y="388" width="196" height="253" fill="rgb(132,132,132)"/>
<rect x="382" y="388" width="319" height="253" fill="rgb(142,142,142)"/>
</g>
<rect x="27" y="1" width="516.5" height="517" fill="#888" filter="url(#grain)"/>
<g filter="url(#bl1)">
<path d="M130.3,66.3 C129.7,68.0 128.7,69.7 127.5,71.0 C126.3,72.3 124.7,73.4 123.1,74.0 C121.5,74.7 119.7,74.9 118.1,74.8 C116.5,74.6 114.9,74.0 113.5,73.1 C112.2,72.2 111.0,70.8 110.2,69.3 C109.4,67.9 108.9,66.0 108.8,64.2 C108.7,62.4 109.0,60.4 109.7,58.7 C110.3,57.0 111.3,55.3 112.5,54.0 C113.7,52.7 115.3,51.6 116.9,51.0 C118.5,50.3 120.3,50.1 121.9,50.2 C123.5,50.4 125.1,51.0 126.5,51.9 C127.8,52.8 129.0,54.2 129.8,55.7 C130.6,57.1 131.1,59.0 131.2,60.8 C131.3,62.6 131.0,64.6 130.3,66.3 Z" fill="none" stroke="#adadad" stroke-width="5" stroke-linejoin="round" opacity="0.9"/>
<path d="M130.3,66.3 C129.7,68.0 128.7,69.7 127.5,71.0 C126.3,72.3 124.7,73.4 123.1,74.0 C121.5,74.7 119.7,74.9 118.1,74.8 C116.5,74.6 114.9,74.0 113.5,73.1 C112.2,72.2 111.0,70.8 110.2,69.3 C109.4,67.9 108.9,66.0 108.8,64.2 C108.7,62.4 109.0,60.4 109.7,58.7 C110.3,57.0 111.3,55.3 112.5,54.0 C113.7,52.7 115.3,51.6 116.9,51.0 C118.5,50.3 120.3,50.1 121.9,50.2 C123.5,50.4 125.1,51.0 126.5,51.9 C127.8,52.8 129.0,54.2 129.8,55.7 C130.6,57.1 131.1,59.0 131.2,60.8 C131.3,62.6 131.0,64.6 130.3,66.3 Z" fill="#8e8e8e" stroke="none"/>
<path d="M130.3,66.3 C129.7,68.0 128.7,69.7 127.5,71.0 C126.3,72.3 124.7,73.4 123.1,74.0 C121.5,74.7 119.7,74.9 118.1,74.8 C116.5,74.6 114.9,74.0 113.5,73.1 C112.2,72.2 111.0,70.8 110.2,69.3 C109.4,67.9 108.9,66.0 108.8,64.2 C108.7,62.4 109.0,60.4 109.7,58.7 C110.3,57.0 111.3,55.3 112.5,54.0 C113.7,52.7 115.3,51.6 116.9,51.0 C118.5,50.3 120.3,50.1 121.9,50.2 C123.5,50.4 125.1,51.0 126.5,51.9 C127.8,52.8 129.0,54.2 129.8,55.7 C130.6,57.1 131.1,59.0 131.2,60.8 C131.3,62.6 131.0,64.6 130.3,66.3 Z" fill="#888888" filter="url(#mott)"/>
<path d="M130.3,66.3 C129.7,68.0 128.7,69.7 127.5,71.0 C126.3,72.3 124.7,73.4 123.1,74.0 C121.5,74.7 119.7,74.9 118.1,74.8 C116.5,74.6 114.9,74.0 113.5,73.1 C112.2,72.2 111.0,70.8 110.2,69.3 C109.4,67.9 108.9,66.0 108.8,64.2 C108.7,62.4 109.0,60.4 109.7,58.7 C110.3,57.0 111.3,55.3 112.5,54.0 C113.7,52.7 115.3,51.6 116.9,51.0 C118.5,50.3 120.3,50.1 121.9,50.2 C123.5,50.4 125.1,51.0 126.5,51.9 C127.8,52.8 129.0,54.2 129.8,55.7 C130.6,57.1 131.1,59.0 131.2,60.8 C131.3,62.6 131.0,64.6 130.3,66.3 Z" fill="none" stroke="#747474" stroke-width="1.8" stroke-linejoin="round"/>
<path d="M114.5,57 q3.5,3 4.5,7 q0.5,3 -1.5,6 M124,55.5 q-2,5 -1,9 q1,3 3,4.5" stroke="#6c6c6c" stroke-width="1.7" fill="none"/>
<path d="M99.2,175.2 C100.6,178.4 101.4,182.2 101.3,185.7 C101.2,189.2 100.2,193.1 98.6,196.2 C96.9,199.4 94.3,202.5 91.4,204.7 C88.6,206.8 84.9,208.6 81.3,209.4 C77.8,210.1 73.8,210.2 70.3,209.4 C66.8,208.6 63.2,206.9 60.5,204.8 C57.7,202.6 55.3,199.5 53.8,196.4 C52.4,193.2 51.6,189.4 51.7,185.9 C51.8,182.4 52.8,178.5 54.4,175.4 C56.1,172.2 58.7,169.1 61.6,166.9 C64.4,164.8 68.1,163.0 71.7,162.2 C75.2,161.5 79.2,161.4 82.7,162.2 C86.2,163.0 89.8,164.7 92.5,166.8 C95.3,169.0 97.7,172.1 99.2,175.2 Z" fill="none" stroke="#adadad" stroke-width="6.4" stroke-linejoin="round" opacity="0.9"/>
<path d="M99.2,175.2 C100.6,178.4 101.4,182.2 101.3,185.7 C101.2,189.2 100.2,193.1 98.6,196.2 C96.9,199.4 94.3,202.5 91.4,204.7 C88.6,206.8 84.9,208.6 81.3,209.4 C77.8,210.1 73.8,210.2 70.3,209.4 C66.8,208.6 63.2,206.9 60.5,204.8 C57.7,202.6 55.3,199.5 53.8,196.4 C52.4,193.2 51.6,189.4 51.7,185.9 C51.8,182.4 52.8,178.5 54.4,175.4 C56.1,172.2 58.7,169.1 61.6,166.9 C64.4,164.8 68.1,163.0 71.7,162.2 C75.2,161.5 79.2,161.4 82.7,162.2 C86.2,163.0 89.8,164.7 92.5,166.8 C95.3,169.0 97.7,172.1 99.2,175.2 Z" fill="#8e8e8e" stroke="none"/>
<path d="M99.2,175.2 C100.6,178.4 101.4,182.2 101.3,185.7 C101.2,189.2 100.2,193.1 98.6,196.2 C96.9,199.4 94.3,202.5 91.4,204.7 C88.6,206.8 84.9,208.6 81.3,209.4 C77.8,210.1 73.8,210.2 70.3,209.4 C66.8,208.6 63.2,206.9 60.5,204.8 C57.7,202.6 55.3,199.5 53.8,196.4 C52.4,193.2 51.6,189.4 51.7,185.9 C51.8,182.4 52.8,178.5 54.4,175.4 C56.1,172.2 58.7,169.1 61.6,166.9 C64.4,164.8 68.1,163.0 71.7,162.2 C75.2,161.5 79.2,161.4 82.7,162.2 C86.2,163.0 89.8,164.7 92.5,166.8 C95.3,169.0 97.7,172.1 99.2,175.2 Z" fill="#888888" filter="url(#mott)"/>
<path d="M99.2,175.2 C100.6,178.4 101.4,182.2 101.3,185.7 C101.2,189.2 100.2,193.1 98.6,196.2 C96.9,199.4 94.3,202.5 91.4,204.7 C88.6,206.8 84.9,208.6 81.3,209.4 C77.8,210.1 73.8,210.2 70.3,209.4 C66.8,208.6 63.2,206.9 60.5,204.8 C57.7,202.6 55.3,199.5 53.8,196.4 C52.4,193.2 51.6,189.4 51.7,185.9 C51.8,182.4 52.8,178.5 54.4,175.4 C56.1,172.2 58.7,169.1 61.6,166.9 C64.4,164.8 68.1,163.0 71.7,162.2 C75.2,161.5 79.2,161.4 82.7,162.2 C86.2,163.0 89.8,164.7 92.5,166.8 C95.3,169.0 97.7,172.1 99.2,175.2 Z" fill="none" stroke="#6c6c6c" stroke-width="2.2" stroke-linejoin="round"/>
<path d="M63.8,163.1 C63.8,164.7 63.4,166.4 62.7,167.8 C62.1,169.2 61.0,170.6 59.7,171.5 C58.5,172.5 56.9,173.3 55.4,173.6 C53.9,174.0 52.1,174.0 50.6,173.6 C49.1,173.3 47.5,172.5 46.3,171.5 C45.0,170.6 43.9,169.2 43.3,167.8 C42.6,166.4 42.2,164.7 42.2,163.1 C42.2,161.5 42.6,159.8 43.3,158.4 C43.9,157.0 45.0,155.6 46.3,154.7 C47.5,153.7 49.1,152.9 50.6,152.6 C52.1,152.2 53.9,152.2 55.4,152.6 C56.9,152.9 58.5,153.7 59.7,154.7 C61.0,155.6 62.1,157.0 62.7,158.4 C63.4,159.8 63.8,161.5 63.8,163.1 Z" fill="none" stroke="#adadad" stroke-width="7.5" stroke-linejoin="round" opacity="0.9"/>
<path d="M63.8,163.1 C63.8,164.7 63.4,166.4 62.7,167.8 C62.1,169.2 61.0,170.6 59.7,171.5 C58.5,172.5 56.9,173.3 55.4,173.6 C53.9,174.0 52.1,174.0 50.6,173.6 C49.1,173.3 47.5,172.5 46.3,171.5 C45.0,170.6 43.9,169.2 43.3,167.8 C42.6,166.4 42.2,164.7 42.2,163.1 C42.2,161.5 42.6,159.8 43.3,158.4 C43.9,157.0 45.0,155.6 46.3,154.7 C47.5,153.7 49.1,152.9 50.6,152.6 C52.1,152.2 53.9,152.2 55.4,152.6 C56.9,152.9 58.5,153.7 59.7,154.7 C61.0,155.6 62.1,157.0 62.7,158.4 C63.4,159.8 63.8,161.5 63.8,163.1 Z" fill="#8e8e8e" stroke="none"/>
<path d="M63.8,163.1 C63.8,164.7 63.4,166.4 62.7,167.8 C62.1,169.2 61.0,170.6 59.7,171.5 C58.5,172.5 56.9,173.3 55.4,173.6 C53.9,174.0 52.1,174.0 50.6,173.6 C49.1,173.3 47.5,172.5 46.3,171.5 C45.0,170.6 43.9,169.2 43.3,167.8 C42.6,166.4 42.2,164.7 42.2,163.1 C42.2,161.5 42.6,159.8 43.3,158.4 C43.9,157.0 45.0,155.6 46.3,154.7 C47.5,153.7 49.1,152.9 50.6,152.6 C52.1,152.2 53.9,152.2 55.4,152.6 C56.9,152.9 58.5,153.7 59.7,154.7 C61.0,155.6 62.1,157.0 62.7,158.4 C63.4,159.8 63.8,161.5 63.8,163.1 Z" fill="#888888" filter="url(#mott)"/>
<path d="M63.8,163.1 C63.8,164.7 63.4,166.4 62.7,167.8 C62.1,169.2 61.0,170.6 59.7,171.5 C58.5,172.5 56.9,173.3 55.4,173.6 C53.9,174.0 52.1,174.0 50.6,173.6 C49.1,173.3 47.5,172.5 46.3,171.5 C45.0,170.6 43.9,169.2 43.3,167.8 C42.6,166.4 42.2,164.7 42.2,163.1 C42.2,161.5 42.6,159.8 43.3,158.4 C43.9,157.0 45.0,155.6 46.3,154.7 C47.5,153.7 49.1,152.9 50.6,152.6 C52.1,152.2 53.9,152.2 55.4,152.6 C56.9,152.9 58.5,153.7 59.7,154.7 C61.0,155.6 62.1,157.0 62.7,158.4 C63.4,159.8 63.8,161.5 63.8,163.1 Z" fill="none" stroke="#545454" stroke-width="3.0" stroke-linejoin="round"/>
<circle cx="66" cy="203.5" r="2" fill="#555"/>
<path d="M130.6,227.6 C133.3,224.1 139.3,217.4 144.5,215.4 C149.7,213.4 157.0,213.4 161.9,215.4 C166.8,217.4 171.5,222.9 174.1,227.6 C176.7,232.2 177.6,238.4 177.6,243.3 C177.6,248.2 174.2,252.8 174.1,257.2 C174.0,261.5 176.8,265.3 176.8,269.4 C176.8,273.5 176.3,278.6 174.1,281.6 C171.9,284.7 167.2,287.4 163.7,287.7 C160.2,288.0 155.7,286.4 153.2,283.4 C150.7,280.3 150.1,273.5 148.9,269.4 C147.8,265.3 148.5,262.8 146.3,259.0 C144.1,255.2 138.9,250.6 135.8,246.8 C132.8,243.0 128.9,239.5 128.0,236.3 C127.1,233.1 127.8,231.1 130.6,227.6 Z" fill="none" stroke="#adadad" stroke-width="6.4" stroke-linejoin="round" opacity="0.9"/>
<path d="M130.6,227.6 C133.3,224.1 139.3,217.4 144.5,215.4 C149.7,213.4 157.0,213.4 161.9,215.4 C166.8,217.4 171.5,222.9 174.1,227.6 C176.7,232.2 177.6,238.4 177.6,243.3 C177.6,248.2 174.2,252.8 174.1,257.2 C174.0,261.5 176.8,265.3 176.8,269.4 C176.8,273.5 176.3,278.6 174.1,281.6 C171.9,284.7 167.2,287.4 163.7,287.7 C160.2,288.0 155.7,286.4 153.2,283.4 C150.7,280.3 150.1,273.5 148.9,269.4 C147.8,265.3 148.5,262.8 146.3,259.0 C144.1,255.2 138.9,250.6 135.8,246.8 C132.8,243.0 128.9,239.5 128.0,236.3 C127.1,233.1 127.8,231.1 130.6,227.6 Z" fill="#8e8e8e" stroke="none"/>
<path d="M130.6,227.6 C133.3,224.1 139.3,217.4 144.5,215.4 C149.7,213.4 157.0,213.4 161.9,215.4 C166.8,217.4 171.5,222.9 174.1,227.6 C176.7,232.2 177.6,238.4 177.6,243.3 C177.6,248.2 174.2,252.8 174.1,257.2 C174.0,261.5 176.8,265.3 176.8,269.4 C176.8,273.5 176.3,278.6 174.1,281.6 C171.9,284.7 167.2,287.4 163.7,287.7 C160.2,288.0 155.7,286.4 153.2,283.4 C150.7,280.3 150.1,273.5 148.9,269.4 C147.8,265.3 148.5,262.8 146.3,259.0 C144.1,255.2 138.9,250.6 135.8,246.8 C132.8,243.0 128.9,239.5 128.0,236.3 C127.1,233.1 127.8,231.1 130.6,227.6 Z" fill="#888888" filter="url(#mott)"/>
<path d="M130.6,227.6 C133.3,224.1 139.3,217.4 144.5,215.4 C149.7,213.4 157.0,213.4 161.9,215.4 C166.8,217.4 171.5,222.9 174.1,227.6 C176.7,232.2 177.6,238.4 177.6,243.3 C177.6,248.2 174.2,252.8 174.1,257.2 C174.0,261.5 176.8,265.3 176.8,269.4 C176.8,273.5 176.3,278.6 174.1,281.6 C171.9,284.7 167.2,287.4 163.7,287.7 C160.2,288.0 155.7,286.4 153.2,283.4 C150.7,280.3 150.1,273.5 148.9,269.4 C147.8,265.3 148.5,262.8 146.3,259.0 C144.1,255.2 138.9,250.6 135.8,246.8 C132.8,243.0 128.9,239.5 128.0,236.3 C127.1,233.1 127.8,231.1 130.6,227.6 Z" fill="none" stroke="#606060" stroke-width="2.4" stroke-linejoin="round"/>
<path d="M147.8,206.7 C147.8,209.6 147.1,212.7 145.8,215.3 C144.6,217.9 142.6,220.4 140.3,222.2 C138.1,224.0 135.2,225.4 132.4,226.0 C129.6,226.6 126.4,226.6 123.6,226.0 C120.8,225.4 117.9,224.0 115.7,222.2 C113.4,220.4 111.4,217.9 110.2,215.3 C108.9,212.7 108.2,209.6 108.2,206.7 C108.2,203.8 108.9,200.7 110.2,198.1 C111.4,195.5 113.4,193.0 115.7,191.2 C117.9,189.4 120.8,188.0 123.6,187.4 C126.4,186.8 129.6,186.8 132.4,187.4 C135.2,188.0 138.1,189.4 140.3,191.2 C142.6,193.0 144.6,195.5 145.8,198.1 C147.1,200.7 147.8,203.8 147.8,206.7 Z" fill="none" stroke="#adadad" stroke-width="7.5" stroke-linejoin="round" opacity="0.9"/>
<path d="M147.8,206.7 C147.8,209.6 147.1,212.7 145.8,215.3 C144.6,217.9 142.6,220.4 140.3,222.2 C138.1,224.0 135.2,225.4 132.4,226.0 C129.6,226.6 126.4,226.6 123.6,226.0 C120.8,225.4 117.9,224.0 115.7,222.2 C113.4,220.4 111.4,217.9 110.2,215.3 C108.9,212.7 108.2,209.6 108.2,206.7 C108.2,203.8 108.9,200.7 110.2,198.1 C111.4,195.5 113.4,193.0 115.7,191.2 C117.9,189.4 120.8,188.0 123.6,187.4 C126.4,186.8 129.6,186.8 132.4,187.4 C135.2,188.0 138.1,189.4 140.3,191.2 C142.6,193.0 144.6,195.5 145.8,198.1 C147.1,200.7 147.8,203.8 147.8,206.7 Z" fill="#8e8e8e" stroke="none"/>
<path d="M147.8,206.7 C147.8,209.6 147.1,212.7 145.8,215.3 C144.6,217.9 142.6,220.4 140.3,222.2 C138.1,224.0 135.2,225.4 132.4,226.0 C129.6,226.6 126.4,226.6 123.6,226.0 C120.8,225.4 117.9,224.0 115.7,222.2 C113.4,220.4 111.4,217.9 110.2,215.3 C108.9,212.7 108.2,209.6 108.2,206.7 C108.2,203.8 108.9,200.7 110.2,198.1 C111.4,195.5 113.4,193.0 115.7,191.2 C117.9,189.4 120.8,188.0 123.6,187.4 C126.4,186.8 129.6,186.8 132.4,187.4 C135.2,188.0 138.1,189.4 140.3,191.2 C142.6,193.0 144.6,195.5 145.8,198.1 C147.1,200.7 147.8,203.8 147.8,206.7 Z" fill="#888888" filter="url(#mott)"/>
<path d="M147.8,206.7 C147.8,209.6 147.1,212.7 145.8,215.3 C144.6,217.9 142.6,220.4 140.3,222.2 C138.1,224.0 135.2,225.4 132.4,226.0 C129.6,226.6 126.4,226.6 123.6,226.0 C120.8,225.4 117.9,224.0 115.7,222.2 C113.4,220.4 111.4,217.9 110.2,215.3 C108.9,212.7 108.2,209.6 108.2,206.7 C108.2,203.8 108.9,200.7 110.2,198.1 C111.4,195.5 113.4,193.0 115.7,191.2 C117.9,189.4 120.8,188.0 123.6,187.4 C126.4,186.8 129.6,186.8 132.4,187.4 C135.2,188.0 138.1,189.4 140.3,191.2 C142.6,193.0 144.6,195.5 145.8,198.1 C147.1,200.7 147.8,203.8 147.8,206.7 Z" fill="none" stroke="#555555" stroke-width="2.9" stroke-linejoin="round"/>
<path d="M231.6,238.9 C235.1,238.6 241.2,240.3 245.6,240.7 C250.0,241.1 255.1,239.6 257.8,241.5 C260.6,243.4 262.1,247.9 262.1,252.0 C262.1,256.1 260.3,261.5 257.8,265.9 C255.3,270.2 250.5,274.0 247.3,278.1 C244.1,282.2 242.1,287.5 238.6,290.3 C235.1,293.1 230.3,295.0 226.4,294.7 C222.5,294.4 217.4,291.4 215.1,288.6 C212.8,285.8 212.3,282.5 212.5,278.1 C212.7,273.8 214.8,267.1 216.0,262.5 C217.2,257.9 218.0,253.7 219.4,250.3 C220.8,247.0 222.7,244.3 224.7,242.4 C226.7,240.5 228.1,239.2 231.6,238.9 Z" fill="none" stroke="#adadad" stroke-width="6.4" stroke-linejoin="round" opacity="0.9"/>
<path d="M231.6,238.9 C235.1,238.6 241.2,240.3 245.6,240.7 C250.0,241.1 255.1,239.6 257.8,241.5 C260.6,243.4 262.1,247.9 262.1,252.0 C262.1,256.1 260.3,261.5 257.8,265.9 C255.3,270.2 250.5,274.0 247.3,278.1 C244.1,282.2 242.1,287.5 238.6,290.3 C235.1,293.1 230.3,295.0 226.4,294.7 C222.5,294.4 217.4,291.4 215.1,288.6 C212.8,285.8 212.3,282.5 212.5,278.1 C212.7,273.8 214.8,267.1 216.0,262.5 C217.2,257.9 218.0,253.7 219.4,250.3 C220.8,247.0 222.7,244.3 224.7,242.4 C226.7,240.5 228.1,239.2 231.6,238.9 Z" fill="#8e8e8e" stroke="none"/>
<path d="M231.6,238.9 C235.1,238.6 241.2,240.3 245.6,240.7 C250.0,241.1 255.1,239.6 257.8,241.5 C260.6,243.4 262.1,247.9 262.1,252.0 C262.1,256.1 260.3,261.5 257.8,265.9 C255.3,270.2 250.5,274.0 247.3,278.1 C244.1,282.2 242.1,287.5 238.6,290.3 C235.1,293.1 230.3,295.0 226.4,294.7 C222.5,294.4 217.4,291.4 215.1,288.6 C212.8,285.8 212.3,282.5 212.5,278.1 C212.7,273.8 214.8,267.1 216.0,262.5 C217.2,257.9 218.0,253.7 219.4,250.3 C220.8,247.0 222.7,244.3 224.7,242.4 C226.7,240.5 228.1,239.2 231.6,238.9 Z" fill="#888888" filter="url(#mott)"/>
<path d="M231.6,238.9 C235.1,238.6 241.2,240.3 245.6,240.7 C250.0,241.1 255.1,239.6 257.8,241.5 C260.6,243.4 262.1,247.9 262.1,252.0 C262.1,256.1 260.3,261.5 257.8,265.9 C255.3,270.2 250.5,274.0 247.3,278.1 C244.1,282.2 242.1,287.5 238.6,290.3 C235.1,293.1 230.3,295.0 226.4,294.7 C222.5,294.4 217.4,291.4 215.1,288.6 C212.8,285.8 212.3,282.5 212.5,278.1 C212.7,273.8 214.8,267.1 216.0,262.5 C217.2,257.9 218.0,253.7 219.4,250.3 C220.8,247.0 222.7,244.3 224.7,242.4 C226.7,240.5 228.1,239.2 231.6,238.9 Z" fill="none" stroke="#626262" stroke-width="2.4" stroke-linejoin="round"/>
<path d="M264.6,223.6 C264.6,226.3 263.9,229.2 262.7,231.7 C261.5,234.1 259.6,236.5 257.4,238.1 C255.3,239.8 252.5,241.1 249.8,241.7 C247.1,242.3 244.1,242.3 241.4,241.7 C238.7,241.1 235.9,239.8 233.8,238.1 C231.6,236.5 229.7,234.1 228.5,231.7 C227.3,229.2 226.6,226.3 226.6,223.6 C226.6,220.9 227.3,218.0 228.5,215.5 C229.7,213.1 231.6,210.7 233.8,209.1 C235.9,207.4 238.7,206.1 241.4,205.5 C244.1,204.9 247.1,204.9 249.8,205.5 C252.5,206.1 255.3,207.4 257.4,209.1 C259.6,210.7 261.5,213.1 262.7,215.5 C263.9,218.0 264.6,220.9 264.6,223.6 Z" fill="none" stroke="#adadad" stroke-width="7.5" stroke-linejoin="round" opacity="0.9"/>
<path d="M264.6,223.6 C264.6,226.3 263.9,229.2 262.7,231.7 C261.5,234.1 259.6,236.5 257.4,238.1 C255.3,239.8 252.5,241.1 249.8,241.7 C247.1,242.3 244.1,242.3 241.4,241.7 C238.7,241.1 235.9,239.8 233.8,238.1 C231.6,236.5 229.7,234.1 228.5,231.7 C227.3,229.2 226.6,226.3 226.6,223.6 C226.6,220.9 227.3,218.0 228.5,215.5 C229.7,213.1 231.6,210.7 233.8,209.1 C235.9,207.4 238.7,206.1 241.4,205.5 C244.1,204.9 247.1,204.9 249.8,205.5 C252.5,206.1 255.3,207.4 257.4,209.1 C259.6,210.7 261.5,213.1 262.7,215.5 C263.9,218.0 264.6,220.9 264.6,223.6 Z" fill="#8e8e8e" stroke="none"/>
<path d="M264.6,223.6 C264.6,226.3 263.9,229.2 262.7,231.7 C261.5,234.1 259.6,236.5 257.4,238.1 C255.3,239.8 252.5,241.1 249.8,241.7 C247.1,242.3 244.1,242.3 241.4,241.7 C238.7,241.1 235.9,239.8 233.8,238.1 C231.6,236.5 229.7,234.1 228.5,231.7 C227.3,229.2 226.6,226.3 226.6,223.6 C226.6,220.9 227.3,218.0 228.5,215.5 C229.7,213.1 231.6,210.7 233.8,209.1 C235.9,207.4 238.7,206.1 241.4,205.5 C244.1,204.9 247.1,204.9 249.8,205.5 C252.5,206.1 255.3,207.4 257.4,209.1 C259.6,210.7 261.5,213.1 262.7,215.5 C263.9,218.0 264.6,220.9 264.6,223.6 Z" fill="#888888" filter="url(#mott)"/>
<path d="M264.6,223.6 C264.6,226.3 263.9,229.2 262.7,231.7 C261.5,234.1 259.6,236.5 257.4,238.1 C255.3,239.8 252.5,241.1 249.8,241.7 C247.1,242.3 244.1,242.3 241.4,241.7 C238.7,241.1 235.9,239.8 233.8,238.1 C231.6,236.5 229.7,234.1 228.5,231.7 C227.3,229.2 226.6,226.3 226.6,223.6 C226.6,220.9 227.3,218.0 228.5,215.5 C229.7,213.1 231.6,210.7 233.8,209.1 C235.9,207.4 238.7,206.1 241.4,205.5 C244.1,204.9 247.1,204.9 249.8,205.5 C252.5,206.1 255.3,207.4 257.4,209.1 C259.6,210.7 261.5,213.1 262.7,215.5 C263.9,218.0 264.6,220.9 264.6,223.6 Z" fill="none" stroke="#505050" stroke-width="3.0" stroke-linejoin="round"/>
<ellipse cx="242" cy="236.5" rx="7.5" ry="2.6" fill="#dedede" opacity="0.75" transform="rotate(8 242 236.5)"/>
<path d="M304.0,318.0 C304.2,313.2 305.7,305.8 308.0,301.0 C310.3,296.2 314.7,291.7 318.0,289.0 C321.3,286.3 325.0,285.2 328.0,285.0 C331.0,284.8 333.5,286.2 336.0,288.0 C338.5,289.8 341.0,292.5 343.0,296.0 C345.0,299.5 346.8,304.5 348.0,309.0 C349.2,313.5 350.5,319.0 350.0,323.0 C349.5,327.0 347.7,330.7 345.0,333.0 C342.3,335.3 338.5,336.5 334.0,337.0 C329.5,337.5 322.5,337.2 318.0,336.0 C313.5,334.8 309.3,333.0 307.0,330.0 C304.7,327.0 303.8,322.8 304.0,318.0 Z" fill="none" stroke="#adadad" stroke-width="6.4" stroke-linejoin="round" opacity="0.9"/>
<path d="M304.0,318.0 C304.2,313.2 305.7,305.8 308.0,301.0 C310.3,296.2 314.7,291.7 318.0,289.0 C321.3,286.3 325.0,285.2 328.0,285.0 C331.0,284.8 333.5,286.2 336.0,288.0 C338.5,289.8 341.0,292.5 343.0,296.0 C345.0,299.5 346.8,304.5 348.0,309.0 C349.2,313.5 350.5,319.0 350.0,323.0 C349.5,327.0 347.7,330.7 345.0,333.0 C342.3,335.3 338.5,336.5 334.0,337.0 C329.5,337.5 322.5,337.2 318.0,336.0 C313.5,334.8 309.3,333.0 307.0,330.0 C304.7,327.0 303.8,322.8 304.0,318.0 Z" fill="#8e8e8e" stroke="none"/>
<path d="M304.0,318.0 C304.2,313.2 305.7,305.8 308.0,301.0 C310.3,296.2 314.7,291.7 318.0,289.0 C321.3,286.3 325.0,285.2 328.0,285.0 C331.0,284.8 333.5,286.2 336.0,288.0 C338.5,289.8 341.0,292.5 343.0,296.0 C345.0,299.5 346.8,304.5 348.0,309.0 C349.2,313.5 350.5,319.0 350.0,323.0 C349.5,327.0 347.7,330.7 345.0,333.0 C342.3,335.3 338.5,336.5 334.0,337.0 C329.5,337.5 322.5,337.2 318.0,336.0 C313.5,334.8 309.3,333.0 307.0,330.0 C304.7,327.0 303.8,322.8 304.0,318.0 Z" fill="#888888" filter="url(#mott)"/>
<path d="M304.0,318.0 C304.2,313.2 305.7,305.8 308.0,301.0 C310.3,296.2 314.7,291.7 318.0,289.0 C321.3,286.3 325.0,285.2 328.0,285.0 C331.0,284.8 333.5,286.2 336.0,288.0 C338.5,289.8 341.0,292.5 343.0,296.0 C345.0,299.5 346.8,304.5 348.0,309.0 C349.2,313.5 350.5,319.0 350.0,323.0 C349.5,327.0 347.7,330.7 345.0,333.0 C342.3,335.3 338.5,336.5 334.0,337.0 C329.5,337.5 322.5,337.2 318.0,336.0 C313.5,334.8 309.3,333.0 307.0,330.0 C304.7,327.0 303.8,322.8 304.0,318.0 Z" fill="none" stroke="#6a6a6a" stroke-width="2.2" stroke-linejoin="round"/>
<path d="M342.3,345.7 C342.5,348.0 341.9,350.6 340.6,352.8 C339.3,355.0 337.1,357.2 334.6,358.8 C332.1,360.4 328.8,361.8 325.6,362.5 C322.4,363.2 318.7,363.5 315.4,363.2 C312.1,362.9 308.7,362.0 306.0,360.8 C303.3,359.5 300.8,357.6 299.2,355.7 C297.6,353.7 296.6,351.2 296.5,348.9 C296.3,346.6 296.9,344.0 298.2,341.8 C299.5,339.6 301.7,337.4 304.2,335.8 C306.7,334.2 310.0,332.8 313.2,332.1 C316.4,331.4 320.1,331.1 323.4,331.4 C326.7,331.7 330.1,332.6 332.8,333.8 C335.5,335.1 338.0,337.0 339.6,338.9 C341.2,340.9 342.2,343.4 342.3,345.7 Z" fill="none" stroke="#adadad" stroke-width="7" stroke-linejoin="round" opacity="0.9"/>
<path d="M342.3,345.7 C342.5,348.0 341.9,350.6 340.6,352.8 C339.3,355.0 337.1,357.2 334.6,358.8 C332.1,360.4 328.8,361.8 325.6,362.5 C322.4,363.2 318.7,363.5 315.4,363.2 C312.1,362.9 308.7,362.0 306.0,360.8 C303.3,359.5 300.8,357.6 299.2,355.7 C297.6,353.7 296.6,351.2 296.5,348.9 C296.3,346.6 296.9,344.0 298.2,341.8 C299.5,339.6 301.7,337.4 304.2,335.8 C306.7,334.2 310.0,332.8 313.2,332.1 C316.4,331.4 320.1,331.1 323.4,331.4 C326.7,331.7 330.1,332.6 332.8,333.8 C335.5,335.1 338.0,337.0 339.6,338.9 C341.2,340.9 342.2,343.4 342.3,345.7 Z" fill="#8e8e8e" stroke="none"/>
<path d="M342.3,345.7 C342.5,348.0 341.9,350.6 340.6,352.8 C339.3,355.0 337.1,357.2 334.6,358.8 C332.1,360.4 328.8,361.8 325.6,362.5 C322.4,363.2 318.7,363.5 315.4,363.2 C312.1,362.9 308.7,362.0 306.0,360.8 C303.3,359.5 300.8,357.6 299.2,355.7 C297.6,353.7 296.6,351.2 296.5,348.9 C296.3,346.6 296.9,344.0 298.2,341.8 C299.5,339.6 301.7,337.4 304.2,335.8 C306.7,334.2 310.0,332.8 313.2,332.1 C316.4,331.4 320.1,331.1 323.4,331.4 C326.7,331.7 330.1,332.6 332.8,333.8 C335.5,335.1 338.0,337.0 339.6,338.9 C341.2,340.9 342.2,343.4 342.3,345.7 Z" fill="#888888" filter="url(#mott)"/>
<path d="M342.3,345.7 C342.5,348.0 341.9,350.6 340.6,352.8 C339.3,355.0 337.1,357.2 334.6,358.8 C332.1,360.4 328.8,361.8 325.6,362.5 C322.4,363.2 318.7,363.5 315.4,363.2 C312.1,362.9 308.7,362.0 306.0,360.8 C303.3,359.5 300.8,357.6 299.2,355.7 C297.6,353.7 296.6,351.2 296.5,348.9 C296.3,346.6 296.9,344.0 298.2,341.8 C299.5,339.6 301.7,337.4 304.2,335.8 C306.7,334.2 310.0,332.8 313.2,332.1 C316.4,331.4 320.1,331.1 323.4,331.4 C326.7,331.7 330.1,332.6 332.8,333.8 C335.5,335.1 338.0,337.0 339.6,338.9 C341.2,340.9 342.2,343.4 342.3,345.7 Z" fill="none" stroke="#585858" stroke-width="2.7" stroke-linejoin="round"/>
<ellipse cx="314" cy="371.5" rx="4.2" ry="6" fill="#e4e4e4"/>
<ellipse cx="318.5" cy="372" rx="2.6" ry="5" fill="#5a5a5a" opacity="0.85"/>
<path d="M488.9,254.3 C489.3,257.3 488.9,260.8 487.8,263.7 C486.7,266.6 484.6,269.7 482.2,271.9 C479.8,274.2 476.5,276.2 473.3,277.3 C470.0,278.5 466.1,279.0 462.7,278.8 C459.2,278.6 455.5,277.6 452.6,276.1 C449.6,274.6 446.8,272.2 445.0,269.7 C443.1,267.2 441.8,264.0 441.3,260.9 C440.9,257.9 441.3,254.4 442.4,251.5 C443.5,248.6 445.6,245.5 448.0,243.3 C450.4,241.0 453.7,239.0 456.9,237.9 C460.2,236.7 464.1,236.2 467.5,236.4 C471.0,236.6 474.7,237.6 477.6,239.1 C480.6,240.6 483.4,243.0 485.2,245.5 C487.1,248.0 488.4,251.2 488.9,254.3 Z" fill="none" stroke="#adadad" stroke-width="6.4" stroke-linejoin="round" opacity="0.9"/>
<path d="M488.9,254.3 C489.3,257.3 488.9,260.8 487.8,263.7 C486.7,266.6 484.6,269.7 482.2,271.9 C479.8,274.2 476.5,276.2 473.3,277.3 C470.0,278.5 466.1,279.0 462.7,278.8 C459.2,278.6 455.5,277.6 452.6,276.1 C449.6,274.6 446.8,272.2 445.0,269.7 C443.1,267.2 441.8,264.0 441.3,260.9 C440.9,257.9 441.3,254.4 442.4,251.5 C443.5,248.6 445.6,245.5 448.0,243.3 C450.4,241.0 453.7,239.0 456.9,237.9 C460.2,236.7 464.1,236.2 467.5,236.4 C471.0,236.6 474.7,237.6 477.6,239.1 C480.6,240.6 483.4,243.0 485.2,245.5 C487.1,248.0 488.4,251.2 488.9,254.3 Z" fill="#8e8e8e" stroke="none"/>
<path d="M488.9,254.3 C489.3,257.3 488.9,260.8 487.8,263.7 C486.7,266.6 484.6,269.7 482.2,271.9 C479.8,274.2 476.5,276.2 473.3,277.3 C470.0,278.5 466.1,279.0 462.7,278.8 C459.2,278.6 455.5,277.6 452.6,276.1 C449.6,274.6 446.8,272.2 445.0,269.7 C443.1,267.2 441.8,264.0 441.3,260.9 C440.9,257.9 441.3,254.4 442.4,251.5 C443.5,248.6 445.6,245.5 448.0,243.3 C450.4,241.0 453.7,239.0 456.9,237.9 C460.2,236.7 464.1,236.2 467.5,236.4 C471.0,236.6 474.7,237.6 477.6,239.1 C480.6,240.6 483.4,243.0 485.2,245.5 C487.1,248.0 488.4,251.2 488.9,254.3 Z" fill="#888888" filter="url(#mott)"/>
<path d="M488.9,254.3 C489.3,257.3 488.9,260.8 487.8,263.7 C486.7,266.6 484.6,269.7 482.2,271.9 C479.8,274.2 476.5,276.2 473.3,277.3 C470.0,278.5 466.1,279.0 462.7,278.8 C459.2,278.6 455.5,277.6 452.6,276.1 C449.6,274.6 446.8,272.2 445.0,269.7 C443.1,267.2 441.8,264.0 441.3,260.9 C440.9,257.9 441.3,254.4 442.4,251.5 C443.5,248.6 445.6,245.5 448.0,243.3 C450.4,241.0 453.7,239.0 456.9,237.9 C460.2,236.7 464.1,236.2 467.5,236.4 C471.0,236.6 474.7,237.6 477.6,239.1 C480.6,240.6 483.4,243.0 485.2,245.5 C487.1,248.0 488.4,251.2 488.9,254.3 Z" fill="none" stroke="#5a5a5a" stroke-width="2.6" stroke-linejoin="round"/>
<path d="M511.6,253.2 C511.6,255.0 511.2,256.9 510.5,258.5 C509.7,260.1 508.5,261.6 507.2,262.7 C505.9,263.8 504.2,264.7 502.6,265.1 C500.9,265.5 499.1,265.5 497.4,265.1 C495.8,264.7 494.1,263.8 492.8,262.7 C491.5,261.6 490.3,260.1 489.5,258.5 C488.8,256.9 488.4,255.0 488.4,253.2 C488.4,251.4 488.8,249.5 489.5,247.9 C490.3,246.3 491.5,244.8 492.8,243.7 C494.1,242.6 495.8,241.7 497.4,241.3 C499.1,240.9 500.9,240.9 502.6,241.3 C504.2,241.7 505.9,242.6 507.2,243.7 C508.5,244.8 509.7,246.3 510.5,247.9 C511.2,249.5 511.6,251.4 511.6,253.2 Z" fill="none" stroke="#adadad" stroke-width="5.5" stroke-linejoin="round" opacity="0.9"/>
<path d="M511.6,253.2 C511.6,255.0 511.2,256.9 510.5,258.5 C509.7,260.1 508.5,261.6 507.2,262.7 C505.9,263.8 504.2,264.7 502.6,265.1 C500.9,265.5 499.1,265.5 497.4,265.1 C495.8,264.7 494.1,263.8 492.8,262.7 C491.5,261.6 490.3,260.1 489.5,258.5 C488.8,256.9 488.4,255.0 488.4,253.2 C488.4,251.4 488.8,249.5 489.5,247.9 C490.3,246.3 491.5,244.8 492.8,243.7 C494.1,242.6 495.8,241.7 497.4,241.3 C499.1,240.9 500.9,240.9 502.6,241.3 C504.2,241.7 505.9,242.6 507.2,243.7 C508.5,244.8 509.7,246.3 510.5,247.9 C511.2,249.5 511.6,251.4 511.6,253.2 Z" fill="#8e8e8e" stroke="none"/>
<path d="M511.6,253.2 C511.6,255.0 511.2,256.9 510.5,258.5 C509.7,260.1 508.5,261.6 507.2,262.7 C505.9,263.8 504.2,264.7 502.6,265.1 C500.9,265.5 499.1,265.5 497.4,265.1 C495.8,264.7 494.1,263.8 492.8,262.7 C491.5,261.6 490.3,260.1 489.5,258.5 C488.8,256.9 488.4,255.0 488.4,253.2 C488.4,251.4 488.8,249.5 489.5,247.9 C490.3,246.3 491.5,244.8 492.8,243.7 C494.1,242.6 495.8,241.7 497.4,241.3 C499.1,240.9 500.9,240.9 502.6,241.3 C504.2,241.7 505.9,242.6 507.2,243.7 C508.5,244.8 509.7,246.3 510.5,247.9 C511.2,249.5 511.6,251.4 511.6,253.2 Z" fill="#888888" filter="url(#mott)"/>
<path d="M511.6,253.2 C511.6,255.0 511.2,256.9 510.5,258.5 C509.7,260.1 508.5,261.6 507.2,262.7 C505.9,263.8 504.2,264.7 502.6,265.1 C500.9,265.5 499.1,265.5 497.4,265.1 C495.8,264.7 494.1,263.8 492.8,262.7 C491.5,261.6 490.3,260.1 489.5,258.5 C488.8,256.9 488.4,255.0 488.4,253.2 C488.4,251.4 488.8,249.5 489.5,247.9 C490.3,246.3 491.5,244.8 492.8,243.7 C494.1,242.6 495.8,241.7 497.4,241.3 C499.1,240.9 500.9,240.9 502.6,241.3 C504.2,241.7 505.9,242.6 507.2,243.7 C508.5,244.8 509.7,246.3 510.5,247.9 C511.2,249.5 511.6,251.4 511.6,253.2 Z" fill="none" stroke="#707070" stroke-width="2.0" stroke-linejoin="round"/>
<path d="M432.8,214.7 C431.9,218.2 430.2,222.0 428.1,224.9 C426.1,227.8 423.3,230.4 420.5,232.1 C417.6,233.7 414.3,234.7 411.3,234.8 C408.2,234.9 405.0,234.1 402.4,232.6 C399.7,231.1 397.2,228.6 395.5,225.9 C393.8,223.1 392.6,219.4 392.1,215.9 C391.7,212.4 391.9,208.3 392.8,204.7 C393.7,201.2 395.4,197.4 397.5,194.5 C399.5,191.6 402.3,189.0 405.1,187.3 C408.0,185.7 411.3,184.7 414.3,184.6 C417.4,184.5 420.6,185.3 423.2,186.8 C425.9,188.3 428.4,190.8 430.1,193.5 C431.8,196.3 433.0,200.0 433.5,203.5 C433.9,207.0 433.7,211.1 432.8,214.7 Z" fill="none" stroke="#adadad" stroke-width="6.4" stroke-linejoin="round" opacity="0.9"/>
<path d="M432.8,214.7 C431.9,218.2 430.2,222.0 428.1,224.9 C426.1,227.8 423.3,230.4 420.5,232.1 C417.6,233.7 414.3,234.7 411.3,234.8 C408.2,234.9 405.0,234.1 402.4,232.6 C399.7,231.1 397.2,228.6 395.5,225.9 C393.8,223.1 392.6,219.4 392.1,215.9 C391.7,212.4 391.9,208.3 392.8,204.7 C393.7,201.2 395.4,197.4 397.5,194.5 C399.5,191.6 402.3,189.0 405.1,187.3 C408.0,185.7 411.3,184.7 414.3,184.6 C417.4,184.5 420.6,185.3 423.2,186.8 C425.9,188.3 428.4,190.8 430.1,193.5 C431.8,196.3 433.0,200.0 433.5,203.5 C433.9,207.0 433.7,211.1 432.8,214.7 Z" fill="#8e8e8e" stroke="none"/>
<path d="M432.8,214.7 C431.9,218.2 430.2,222.0 428.1,224.9 C426.1,227.8 423.3,230.4 420.5,232.1 C417.6,233.7 414.3,234.7 411.3,234.8 C408.2,234.9 405.0,234.1 402.4,232.6 C399.7,231.1 397.2,228.6 395.5,225.9 C393.8,223.1 392.6,219.4 392.1,215.9 C391.7,212.4 391.9,208.3 392.8,204.7 C393.7,201.2 395.4,197.4 397.5,194.5 C399.5,191.6 402.3,189.0 405.1,187.3 C408.0,185.7 411.3,184.7 414.3,184.6 C417.4,184.5 420.6,185.3 423.2,186.8 C425.9,188.3 428.4,190.8 430.1,193.5 C431.8,196.3 433.0,200.0 433.5,203.5 C433.9,207.0 433.7,211.1 432.8,214.7 Z" fill="#888888" filter="url(#mott)"/>
<path d="M432.8,214.7 C431.9,218.2 430.2,222.0 428.1,224.9 C426.1,227.8 423.3,230.4 420.5,232.1 C417.6,233.7 414.3,234.7 411.3,234.8 C408.2,234.9 405.0,234.1 402.4,232.6 C399.7,231.1 397.2,228.6 395.5,225.9 C393.8,223.1 392.6,219.4 392.1,215.9 C391.7,212.4 391.9,208.3 392.8,204.7 C393.7,201.2 395.4,197.4 397.5,194.5 C399.5,191.6 402.3,189.0 405.1,187.3 C408.0,185.7 411.3,184.7 414.3,184.6 C417.4,184.5 420.6,185.3 423.2,186.8 C425.9,188.3 428.4,190.8 430.1,193.5 C431.8,196.3 433.0,200.0 433.5,203.5 C433.9,207.0 433.7,211.1 432.8,214.7 Z" fill="none" stroke="#5c5c5c" stroke-width="2.6" stroke-linejoin="round"/>
<path d="M395,205 Q396,188 409,184" stroke="#d4d4d4" stroke-width="2.6" fill="none" opacity="0.85"/>
<ellipse cx="404" cy="180" rx="11" ry="6" fill="#a8a8a8" opacity="0.6"/>
<circle cx="413.5" cy="186.5" r="2.6" fill="#e6e6e6"/>
<path d="M413.4,244.5 C413.4,247.4 412.7,250.5 411.4,253.1 C410.1,255.7 408.0,258.2 405.6,260.0 C403.3,261.8 400.3,263.2 397.4,263.8 C394.5,264.4 391.1,264.4 388.2,263.8 C385.3,263.2 382.3,261.8 380.0,260.0 C377.6,258.2 375.5,255.7 374.2,253.1 C372.9,250.5 372.2,247.4 372.2,244.5 C372.2,241.6 372.9,238.5 374.2,235.9 C375.5,233.3 377.6,230.8 380.0,229.0 C382.3,227.2 385.3,225.8 388.2,225.2 C391.1,224.6 394.5,224.6 397.4,225.2 C400.3,225.8 403.3,227.2 405.6,229.0 C408.0,230.8 410.1,233.3 411.4,235.9 C412.7,238.5 413.4,241.6 413.4,244.5 Z" fill="none" stroke="#adadad" stroke-width="7.5" stroke-linejoin="round" opacity="0.9"/>
<path d="M413.4,244.5 C413.4,247.4 412.7,250.5 411.4,253.1 C410.1,255.7 408.0,258.2 405.6,260.0 C403.3,261.8 400.3,263.2 397.4,263.8 C394.5,264.4 391.1,264.4 388.2,263.8 C385.3,263.2 382.3,261.8 380.0,260.0 C377.6,258.2 375.5,255.7 374.2,253.1 C372.9,250.5 372.2,247.4 372.2,244.5 C372.2,241.6 372.9,238.5 374.2,235.9 C375.5,233.3 377.6,230.8 380.0,229.0 C382.3,227.2 385.3,225.8 388.2,225.2 C391.1,224.6 394.5,224.6 397.4,225.2 C400.3,225.8 403.3,227.2 405.6,229.0 C408.0,230.8 410.1,233.3 411.4,235.9 C412.7,238.5 413.4,241.6 413.4,244.5 Z" fill="#8e8e8e" stroke="none"/>
<path d="M413.4,244.5 C413.4,247.4 412.7,250.5 411.4,253.1 C410.1,255.7 408.0,258.2 405.6,260.0 C403.3,261.8 400.3,263.2 397.4,263.8 C394.5,264.4 391.1,264.4 388.2,263.8 C385.3,263.2 382.3,261.8 380.0,260.0 C377.6,258.2 375.5,255.7 374.2,253.1 C372.9,250.5 372.2,247.4 372.2,244.5 C372.2,241.6 372.9,238.5 374.2,235.9 C375.5,233.3 377.6,230.8 380.0,229.0 C382.3,227.2 385.3,225.8 388.2,225.2 C391.1,224.6 394.5,224.6 397.4,225.2 C400.3,225.8 403.3,227.2 405.6,229.0 C408.0,230.8 410.1,233.3 411.4,235.9 C412.7,238.5 413.4,241.6 413.4,244.5 Z" fill="#888888" filter="url(#mott)"/>
<path d="M413.4,244.5 C413.4,247.4 412.7,250.5 411.4,253.1 C410.1,255.7 408.0,258.2 405.6,260.0 C403.3,261.8 400.3,263.2 397.4,263.8 C394.5,264.4 391.1,264.4 388.2,263.8 C385.3,263.2 382.3,261.8 380.0,260.0 C377.6,258.2 375.5,255.7 374.2,253.1 C372.9,250.5 372.2,247.4 372.2,244.5 C372.2,241.6 372.9,238.5 374.2,235.9 C375.5,233.3 377.6,230.8 380.0,229.0 C382.3,227.2 385.3,225.8 388.2,225.2 C391.1,224.6 394.5,224.6 397.4,225.2 C400.3,225.8 403.3,227.2 405.6,229.0 C408.0,230.8 410.1,233.3 411.4,235.9 C412.7,238.5 413.4,241.6 413.4,244.5 Z" fill="none" stroke="#585858" stroke-width="2.8" stroke-linejoin="round"/>
<path d="M440.6,265.8 C440.2,268.0 439.4,270.2 438.3,272.0 C437.2,273.8 435.6,275.5 434.0,276.6 C432.4,277.7 430.4,278.4 428.7,278.6 C426.9,278.8 424.9,278.4 423.3,277.6 C421.6,276.8 420.0,275.5 418.9,273.9 C417.8,272.3 416.9,270.2 416.5,268.2 C416.0,266.1 416.0,263.7 416.4,261.6 C416.8,259.4 417.6,257.2 418.7,255.4 C419.8,253.6 421.4,251.9 423.0,250.8 C424.6,249.7 426.6,249.0 428.3,248.8 C430.1,248.6 432.1,249.0 433.7,249.8 C435.4,250.6 437.0,251.9 438.1,253.5 C439.2,255.1 440.1,257.2 440.5,259.2 C441.0,261.3 441.0,263.7 440.6,265.8 Z" fill="none" stroke="#adadad" stroke-width="8" stroke-linejoin="round" opacity="0.9"/>
<path d="M440.6,265.8 C440.2,268.0 439.4,270.2 438.3,272.0 C437.2,273.8 435.6,275.5 434.0,276.6 C432.4,277.7 430.4,278.4 428.7,278.6 C426.9,278.8 424.9,278.4 423.3,277.6 C421.6,276.8 420.0,275.5 418.9,273.9 C417.8,272.3 416.9,270.2 416.5,268.2 C416.0,266.1 416.0,263.7 416.4,261.6 C416.8,259.4 417.6,257.2 418.7,255.4 C419.8,253.6 421.4,251.9 423.0,250.8 C424.6,249.7 426.6,249.0 428.3,248.8 C430.1,248.6 432.1,249.0 433.7,249.8 C435.4,250.6 437.0,251.9 438.1,253.5 C439.2,255.1 440.1,257.2 440.5,259.2 C441.0,261.3 441.0,263.7 440.6,265.8 Z" fill="#b4b4b4" stroke="none"/>
<path d="M440.6,265.8 C440.2,268.0 439.4,270.2 438.3,272.0 C437.2,273.8 435.6,275.5 434.0,276.6 C432.4,277.7 430.4,278.4 428.7,278.6 C426.9,278.8 424.9,278.4 423.3,277.6 C421.6,276.8 420.0,275.5 418.9,273.9 C417.8,272.3 416.9,270.2 416.5,268.2 C416.0,266.1 416.0,263.7 416.4,261.6 C416.8,259.4 417.6,257.2 418.7,255.4 C419.8,253.6 421.4,251.9 423.0,250.8 C424.6,249.7 426.6,249.0 428.3,248.8 C430.1,248.6 432.1,249.0 433.7,249.8 C435.4,250.6 437.0,251.9 438.1,253.5 C439.2,255.1 440.1,257.2 440.5,259.2 C441.0,261.3 441.0,263.7 440.6,265.8 Z" fill="#888888" filter="url(#mott)"/>
<path d="M440.6,265.8 C440.2,268.0 439.4,270.2 438.3,272.0 C437.2,273.8 435.6,275.5 434.0,276.6 C432.4,277.7 430.4,278.4 428.7,278.6 C426.9,278.8 424.9,278.4 423.3,277.6 C421.6,276.8 420.0,275.5 418.9,273.9 C417.8,272.3 416.9,270.2 416.5,268.2 C416.0,266.1 416.0,263.7 416.4,261.6 C416.8,259.4 417.6,257.2 418.7,255.4 C419.8,253.6 421.4,251.9 423.0,250.8 C424.6,249.7 426.6,249.0 428.3,248.8 C430.1,248.6 432.1,249.0 433.7,249.8 C435.4,250.6 437.0,251.9 438.1,253.5 C439.2,255.1 440.1,257.2 440.5,259.2 C441.0,261.3 441.0,263.7 440.6,265.8 Z" fill="none" stroke="#4a4a4a" stroke-width="3.4" stroke-linejoin="round"/>
<ellipse cx="431" cy="268" rx="6.5" ry="8.5" fill="#dedede" opacity="0.9" transform="rotate(20 431 268)"/>
<ellipse cx="427.5" cy="259" rx="3.2" ry="4.2" fill="#8a8a8a" opacity="0.9"/>
<path d="M487.5,403.9 C487.9,405.5 487.9,407.4 487.5,409.0 C487.1,410.6 486.1,412.4 485.0,413.8 C483.8,415.2 482.1,416.4 480.4,417.3 C478.7,418.1 476.6,418.7 474.7,418.8 C472.8,418.9 470.8,418.6 469.1,418.0 C467.3,417.4 465.7,416.4 464.5,415.2 C463.3,413.9 462.4,412.3 461.9,410.7 C461.5,409.1 461.5,407.2 461.9,405.6 C462.3,404.0 463.3,402.2 464.4,400.8 C465.6,399.4 467.3,398.2 469.0,397.3 C470.7,396.5 472.8,395.9 474.7,395.8 C476.6,395.7 478.6,396.0 480.3,396.6 C482.1,397.2 483.7,398.2 484.9,399.4 C486.1,400.7 487.0,402.3 487.5,403.9 Z" fill="none" stroke="#adadad" stroke-width="5.5" stroke-linejoin="round" opacity="0.9"/>
<path d="M487.5,403.9 C487.9,405.5 487.9,407.4 487.5,409.0 C487.1,410.6 486.1,412.4 485.0,413.8 C483.8,415.2 482.1,416.4 480.4,417.3 C478.7,418.1 476.6,418.7 474.7,418.8 C472.8,418.9 470.8,418.6 469.1,418.0 C467.3,417.4 465.7,416.4 464.5,415.2 C463.3,413.9 462.4,412.3 461.9,410.7 C461.5,409.1 461.5,407.2 461.9,405.6 C462.3,404.0 463.3,402.2 464.4,400.8 C465.6,399.4 467.3,398.2 469.0,397.3 C470.7,396.5 472.8,395.9 474.7,395.8 C476.6,395.7 478.6,396.0 480.3,396.6 C482.1,397.2 483.7,398.2 484.9,399.4 C486.1,400.7 487.0,402.3 487.5,403.9 Z" fill="#8e8e8e" stroke="none"/>
<path d="M487.5,403.9 C487.9,405.5 487.9,407.4 487.5,409.0 C487.1,410.6 486.1,412.4 485.0,413.8 C483.8,415.2 482.1,416.4 480.4,417.3 C478.7,418.1 476.6,418.7 474.7,418.8 C472.8,418.9 470.8,418.6 469.1,418.0 C467.3,417.4 465.7,416.4 464.5,415.2 C463.3,413.9 462.4,412.3 461.9,410.7 C461.5,409.1 461.5,407.2 461.9,405.6 C462.3,404.0 463.3,402.2 464.4,400.8 C465.6,399.4 467.3,398.2 469.0,397.3 C470.7,396.5 472.8,395.9 474.7,395.8 C476.6,395.7 478.6,396.0 480.3,396.6 C482.1,397.2 483.7,398.2 484.9,399.4 C486.1,400.7 487.0,402.3 487.5,403.9 Z" fill="#888888" filter="url(#mott)"/>
<path d="M487.5,403.9 C487.9,405.5 487.9,407.4 487.5,409.0 C487.1,410.6 486.1,412.4 485.0,413.8 C483.8,415.2 482.1,416.4 480.4,417.3 C478.7,418.1 476.6,418.7 474.7,418.8 C472.8,418.9 470.8,418.6 469.1,418.0 C467.3,417.4 465.7,416.4 464.5,415.2 C463.3,413.9 462.4,412.3 461.9,410.7 C461.5,409.1 461.5,407.2 461.9,405.6 C462.3,404.0 463.3,402.2 464.4,400.8 C465.6,399.4 467.3,398.2 469.0,397.3 C470.7,396.5 472.8,395.9 474.7,395.8 C476.6,395.7 478.6,396.0 480.3,396.6 C482.1,397.2 483.7,398.2 484.9,399.4 C486.1,400.7 487.0,402.3 487.5,403.9 Z" fill="none" stroke="#6a6a6a" stroke-width="2.0" stroke-linejoin="round"/>
<path d="M467.7,380.6 C468.9,384.0 469.5,388.0 469.1,391.5 C468.8,395.1 467.5,398.9 465.6,402.0 C463.8,405.0 461.0,407.9 458.0,409.8 C455.0,411.8 451.3,413.2 447.7,413.6 C444.2,414.0 440.2,413.6 436.8,412.5 C433.4,411.3 430.0,409.2 427.5,406.7 C424.9,404.2 422.7,400.8 421.5,397.4 C420.3,394.0 419.7,390.0 420.1,386.5 C420.4,382.9 421.7,379.1 423.6,376.0 C425.4,373.0 428.2,370.1 431.2,368.2 C434.2,366.2 437.9,364.8 441.5,364.4 C445.0,364.0 449.0,364.4 452.4,365.5 C455.8,366.7 459.2,368.8 461.7,371.3 C464.3,373.8 466.5,377.2 467.7,380.6 Z" fill="none" stroke="#adadad" stroke-width="6.4" stroke-linejoin="round" opacity="0.9"/>
<path d="M467.7,380.6 C468.9,384.0 469.5,388.0 469.1,391.5 C468.8,395.1 467.5,398.9 465.6,402.0 C463.8,405.0 461.0,407.9 458.0,409.8 C455.0,411.8 451.3,413.2 447.7,413.6 C444.2,414.0 440.2,413.6 436.8,412.5 C433.4,411.3 430.0,409.2 427.5,406.7 C424.9,404.2 422.7,400.8 421.5,397.4 C420.3,394.0 419.7,390.0 420.1,386.5 C420.4,382.9 421.7,379.1 423.6,376.0 C425.4,373.0 428.2,370.1 431.2,368.2 C434.2,366.2 437.9,364.8 441.5,364.4 C445.0,364.0 449.0,364.4 452.4,365.5 C455.8,366.7 459.2,368.8 461.7,371.3 C464.3,373.8 466.5,377.2 467.7,380.6 Z" fill="#8e8e8e" stroke="none"/>
<path d="M467.7,380.6 C468.9,384.0 469.5,388.0 469.1,391.5 C468.8,395.1 467.5,398.9 465.6,402.0 C463.8,405.0 461.0,407.9 458.0,409.8 C455.0,411.8 451.3,413.2 447.7,413.6 C444.2,414.0 440.2,413.6 436.8,412.5 C433.4,411.3 430.0,409.2 427.5,406.7 C424.9,404.2 422.7,400.8 421.5,397.4 C420.3,394.0 419.7,390.0 420.1,386.5 C420.4,382.9 421.7,379.1 423.6,376.0 C425.4,373.0 428.2,370.1 431.2,368.2 C434.2,366.2 437.9,364.8 441.5,364.4 C445.0,364.0 449.0,364.4 452.4,365.5 C455.8,366.7 459.2,368.8 461.7,371.3 C464.3,373.8 466.5,377.2 467.7,380.6 Z" fill="#888888" filter="url(#mott)"/>
<path d="M467.7,380.6 C468.9,384.0 469.5,388.0 469.1,391.5 C468.8,395.1 467.5,398.9 465.6,402.0 C463.8,405.0 461.0,407.9 458.0,409.8 C455.0,411.8 451.3,413.2 447.7,413.6 C444.2,414.0 440.2,413.6 436.8,412.5 C433.4,411.3 430.0,409.2 427.5,406.7 C424.9,404.2 422.7,400.8 421.5,397.4 C420.3,394.0 419.7,390.0 420.1,386.5 C420.4,382.9 421.7,379.1 423.6,376.0 C425.4,373.0 428.2,370.1 431.2,368.2 C434.2,366.2 437.9,364.8 441.5,364.4 C445.0,364.0 449.0,364.4 452.4,365.5 C455.8,366.7 459.2,368.8 461.7,371.3 C464.3,373.8 466.5,377.2 467.7,380.6 Z" fill="none" stroke="#666666" stroke-width="2.4" stroke-linejoin="round"/>
<path d="M514.2,369.9 C513.2,373.7 511.4,377.7 509.1,380.8 C506.8,383.9 503.6,386.7 500.4,388.4 C497.2,390.1 493.4,391.2 490.0,391.2 C486.5,391.2 482.8,390.3 479.8,388.7 C476.8,387.0 473.9,384.3 471.9,381.3 C469.9,378.2 468.4,374.3 467.8,370.5 C467.2,366.7 467.4,362.3 468.4,358.5 C469.4,354.7 471.2,350.7 473.5,347.6 C475.8,344.5 479.0,341.7 482.2,340.0 C485.4,338.3 489.2,337.2 492.6,337.2 C496.1,337.2 499.8,338.1 502.8,339.7 C505.8,341.4 508.7,344.1 510.7,347.1 C512.7,350.2 514.2,354.1 514.8,357.9 C515.4,361.7 515.2,366.1 514.2,369.9 Z" fill="none" stroke="#adadad" stroke-width="7" stroke-linejoin="round" opacity="0.9"/>
<path d="M514.2,369.9 C513.2,373.7 511.4,377.7 509.1,380.8 C506.8,383.9 503.6,386.7 500.4,388.4 C497.2,390.1 493.4,391.2 490.0,391.2 C486.5,391.2 482.8,390.3 479.8,388.7 C476.8,387.0 473.9,384.3 471.9,381.3 C469.9,378.2 468.4,374.3 467.8,370.5 C467.2,366.7 467.4,362.3 468.4,358.5 C469.4,354.7 471.2,350.7 473.5,347.6 C475.8,344.5 479.0,341.7 482.2,340.0 C485.4,338.3 489.2,337.2 492.6,337.2 C496.1,337.2 499.8,338.1 502.8,339.7 C505.8,341.4 508.7,344.1 510.7,347.1 C512.7,350.2 514.2,354.1 514.8,357.9 C515.4,361.7 515.2,366.1 514.2,369.9 Z" fill="#8e8e8e" stroke="none"/>
<path d="M514.2,369.9 C513.2,373.7 511.4,377.7 509.1,380.8 C506.8,383.9 503.6,386.7 500.4,388.4 C497.2,390.1 493.4,391.2 490.0,391.2 C486.5,391.2 482.8,390.3 479.8,388.7 C476.8,387.0 473.9,384.3 471.9,381.3 C469.9,378.2 468.4,374.3 467.8,370.5 C467.2,366.7 467.4,362.3 468.4,358.5 C469.4,354.7 471.2,350.7 473.5,347.6 C475.8,344.5 479.0,341.7 482.2,340.0 C485.4,338.3 489.2,337.2 492.6,337.2 C496.1,337.2 499.8,338.1 502.8,339.7 C505.8,341.4 508.7,344.1 510.7,347.1 C512.7,350.2 514.2,354.1 514.8,357.9 C515.4,361.7 515.2,366.1 514.2,369.9 Z" fill="#888888" filter="url(#mott)"/>
<path d="M514.2,369.9 C513.2,373.7 511.4,377.7 509.1,380.8 C506.8,383.9 503.6,386.7 500.4,388.4 C497.2,390.1 493.4,391.2 490.0,391.2 C486.5,391.2 482.8,390.3 479.8,388.7 C476.8,387.0 473.9,384.3 471.9,381.3 C469.9,378.2 468.4,374.3 467.8,370.5 C467.2,366.7 467.4,362.3 468.4,358.5 C469.4,354.7 471.2,350.7 473.5,347.6 C475.8,344.5 479.0,341.7 482.2,340.0 C485.4,338.3 489.2,337.2 492.6,337.2 C496.1,337.2 499.8,338.1 502.8,339.7 C505.8,341.4 508.7,344.1 510.7,347.1 C512.7,350.2 514.2,354.1 514.8,357.9 C515.4,361.7 515.2,366.1 514.2,369.9 Z" fill="none" stroke="#565656" stroke-width="2.8" stroke-linejoin="round"/>
<path d="M432.2,404.0 C432.2,405.2 431.9,406.4 431.4,407.5 C430.9,408.5 430.1,409.5 429.2,410.3 C428.3,411.0 427.1,411.5 426.0,411.8 C424.9,412.1 423.5,412.1 422.4,411.8 C421.3,411.5 420.1,411.0 419.2,410.3 C418.3,409.5 417.5,408.5 417.0,407.5 C416.5,406.4 416.2,405.2 416.2,404.0 C416.2,402.8 416.5,401.6 417.0,400.5 C417.5,399.5 418.3,398.5 419.2,397.7 C420.1,397.0 421.3,396.5 422.4,396.2 C423.5,395.9 424.9,395.9 426.0,396.2 C427.1,396.5 428.3,397.0 429.2,397.7 C430.1,398.5 430.9,399.5 431.4,400.5 C431.9,401.6 432.2,402.8 432.2,404.0 Z" fill="none" stroke="#adadad" stroke-width="6.5" stroke-linejoin="round" opacity="0.9"/>
<path d="M432.2,404.0 C432.2,405.2 431.9,406.4 431.4,407.5 C430.9,408.5 430.1,409.5 429.2,410.3 C428.3,411.0 427.1,411.5 426.0,411.8 C424.9,412.1 423.5,412.1 422.4,411.8 C421.3,411.5 420.1,411.0 419.2,410.3 C418.3,409.5 417.5,408.5 417.0,407.5 C416.5,406.4 416.2,405.2 416.2,404.0 C416.2,402.8 416.5,401.6 417.0,400.5 C417.5,399.5 418.3,398.5 419.2,397.7 C420.1,397.0 421.3,396.5 422.4,396.2 C423.5,395.9 424.9,395.9 426.0,396.2 C427.1,396.5 428.3,397.0 429.2,397.7 C430.1,398.5 430.9,399.5 431.4,400.5 C431.9,401.6 432.2,402.8 432.2,404.0 Z" fill="#8e8e8e" stroke="none"/>
<path d="M432.2,404.0 C432.2,405.2 431.9,406.4 431.4,407.5 C430.9,408.5 430.1,409.5 429.2,410.3 C428.3,411.0 427.1,411.5 426.0,411.8 C424.9,412.1 423.5,412.1 422.4,411.8 C421.3,411.5 420.1,411.0 419.2,410.3 C418.3,409.5 417.5,408.5 417.0,407.5 C416.5,406.4 416.2,405.2 416.2,404.0 C416.2,402.8 416.5,401.6 417.0,400.5 C417.5,399.5 418.3,398.5 419.2,397.7 C420.1,397.0 421.3,396.5 422.4,396.2 C423.5,395.9 424.9,395.9 426.0,396.2 C427.1,396.5 428.3,397.0 429.2,397.7 C430.1,398.5 430.9,399.5 431.4,400.5 C431.9,401.6 432.2,402.8 432.2,404.0 Z" fill="#888888" filter="url(#mott)"/>
<path d="M432.2,404.0 C432.2,405.2 431.9,406.4 431.4,407.5 C430.9,408.5 430.1,409.5 429.2,410.3 C428.3,411.0 427.1,411.5 426.0,411.8 C424.9,412.1 423.5,412.1 422.4,411.8 C421.3,411.5 420.1,411.0 419.2,410.3 C418.3,409.5 417.5,408.5 417.0,407.5 C416.5,406.4 416.2,405.2 416.2,404.0 C416.2,402.8 416.5,401.6 417.0,400.5 C417.5,399.5 418.3,398.5 419.2,397.7 C420.1,397.0 421.3,396.5 422.4,396.2 C423.5,395.9 424.9,395.9 426.0,396.2 C427.1,396.5 428.3,397.0 429.2,397.7 C430.1,398.5 430.9,399.5 431.4,400.5 C431.9,401.6 432.2,402.8 432.2,404.0 Z" fill="none" stroke="#505050" stroke-width="2.8" stroke-linejoin="round"/>
<ellipse cx="507.5" cy="341.5" rx="6.5" ry="5.2" fill="#d6d6d6" opacity="0.7"/>
<ellipse cx="499" cy="391.8" rx="9" ry="4" fill="#e2e2e2" opacity="0.8" transform="rotate(-28 499 391.8)"/>
</g>
</g>
<rect x="463.50" y="486.00" width="49.00" height="9.00" fill="#fff"/>
<text x="40.40" y="55.00" font-size="50" font-weight="bold" fill="#fff" text-anchor="start">a</text>
</g>
<g id="panel-b">
<rect x="27.6" y="576.3" width="253" height="517.4" fill="url(#bgB)"/>
<g clip-path="url(#clipB)">
<rect x="27.6" y="576.3" width="253" height="517.4" fill="#888" filter="url(#grain)"/>
<g filter="url(#bl2)">
<path d="M52.6,957.0 C53.3,949.7 55.4,940.8 62.0,934.0 C68.6,927.2 81.0,917.8 92.0,916.0 C103.0,914.2 116.7,920.0 128.0,923.0 C139.3,926.0 149.1,932.8 160.0,934.0 C170.9,935.2 187.0,929.0 193.7,930.0 C200.4,931.0 203.9,935.3 200.0,940.0 C196.1,944.7 180.8,952.3 170.0,958.0 C159.2,963.7 145.0,970.2 135.0,974.0 C125.0,977.8 119.8,978.7 110.0,981.0 C100.2,983.3 84.7,988.5 76.0,988.0 C67.3,987.5 61.9,983.2 58.0,978.0 C54.1,972.8 51.9,964.3 52.6,957.0 Z" fill="none" stroke="#b6b6b6" stroke-width="9" opacity="0.8"/>
<path d="M52.6,957.0 C53.3,949.7 55.4,940.8 62.0,934.0 C68.6,927.2 81.0,917.8 92.0,916.0 C103.0,914.2 116.7,920.0 128.0,923.0 C139.3,926.0 149.1,932.8 160.0,934.0 C170.9,935.2 187.0,929.0 193.7,930.0 C200.4,931.0 203.9,935.3 200.0,940.0 C196.1,944.7 180.8,952.3 170.0,958.0 C159.2,963.7 145.0,970.2 135.0,974.0 C125.0,977.8 119.8,978.7 110.0,981.0 C100.2,983.3 84.7,988.5 76.0,988.0 C67.3,987.5 61.9,983.2 58.0,978.0 C54.1,972.8 51.9,964.3 52.6,957.0 Z" fill="#ababab" stroke="#8f8f8f" stroke-width="3"/>
<path d="M64,960 Q70,936 98,930 Q122,928 140,940" fill="none" stroke="#c6c6c6" stroke-width="4"/>
<path d="M72,962 Q84,946 104,948 Q116,952 120,962" fill="none" stroke="#8c8c8c" stroke-width="4"/>
<path d="M80,975 Q100,984 128,970 Q160,950 190,938" fill="none" stroke="#ececec" stroke-width="6.5" stroke-linecap="round"/>
<path d="M70,984 Q100,998 135,982" fill="none" stroke="#8e8e8e" stroke-width="3"/>
<path d="M120.4,865.3 C121.5,857.9 123.7,848.2 128.6,841.7 C133.5,835.2 139.8,830.6 150.0,826.0 C160.2,821.4 177.0,816.8 190.0,814.0 C203.0,811.2 218.6,806.9 228.1,809.2 C237.6,811.5 242.8,820.2 247.0,828.0 C251.2,835.8 253.2,846.5 253.4,856.2 C253.6,865.9 252.2,876.6 248.0,886.0 C243.8,895.4 235.8,905.8 228.1,912.3 C220.4,918.8 211.1,922.3 202.0,925.0 C192.9,927.7 182.5,929.3 173.8,928.6 C165.1,927.9 156.9,924.6 150.0,921.0 C143.1,917.4 136.9,912.7 132.2,906.9 C127.5,901.1 124.0,892.9 122.0,886.0 C120.0,879.1 119.3,872.7 120.4,865.3 Z" fill="none" stroke="#b6b6b6" stroke-width="10" opacity="0.7"/>
<path d="M120.4,865.3 C121.5,857.9 123.7,848.2 128.6,841.7 C133.5,835.2 139.8,830.6 150.0,826.0 C160.2,821.4 177.0,816.8 190.0,814.0 C203.0,811.2 218.6,806.9 228.1,809.2 C237.6,811.5 242.8,820.2 247.0,828.0 C251.2,835.8 253.2,846.5 253.4,856.2 C253.6,865.9 252.2,876.6 248.0,886.0 C243.8,895.4 235.8,905.8 228.1,912.3 C220.4,918.8 211.1,922.3 202.0,925.0 C192.9,927.7 182.5,929.3 173.8,928.6 C165.1,927.9 156.9,924.6 150.0,921.0 C143.1,917.4 136.9,912.7 132.2,906.9 C127.5,901.1 124.0,892.9 122.0,886.0 C120.0,879.1 119.3,872.7 120.4,865.3 Z" fill="url(#gNU)" stroke="#7a7a7a" stroke-width="4.5"/>
<path d="M120.4,865.3 C121.5,857.9 123.7,848.2 128.6,841.7 C133.5,835.2 139.8,830.6 150.0,826.0 C160.2,821.4 177.0,816.8 190.0,814.0 C203.0,811.2 218.6,806.9 228.1,809.2 C237.6,811.5 242.8,820.2 247.0,828.0 C251.2,835.8 253.2,846.5 253.4,856.2 C253.6,865.9 252.2,876.6 248.0,886.0 C243.8,895.4 235.8,905.8 228.1,912.3 C220.4,918.8 211.1,922.3 202.0,925.0 C192.9,927.7 182.5,929.3 173.8,928.6 C165.1,927.9 156.9,924.6 150.0,921.0 C143.1,917.4 136.9,912.7 132.2,906.9 C127.5,901.1 124.0,892.9 122.0,886.0 C120.0,879.1 119.3,872.7 120.4,865.3 Z" fill="#a8a8a8" filter="url(#mott)" opacity="0.45"/>
<path d="M244,826 Q258,860 236,902 Q226,916 210,922" fill="none" stroke="#868686" stroke-width="12" opacity="0.85"/>
<path d="M128,842 Q116,868 128,900 Q136,914 150,921" fill="none" stroke="#666666" stroke-width="4.5" opacity="0.9"/>
<g filter="url(#bl3)">
<ellipse cx="146" cy="862" rx="8" ry="24" fill="#f6f6f6" opacity="1" transform="rotate(-38 146 862)"/>
<ellipse cx="177" cy="866" rx="17" ry="19" fill="#a2a2a2" opacity="0.8"/>
<ellipse cx="172" cy="860" rx="6" ry="5" fill="#888888" opacity="0.7"/>
<ellipse cx="184" cy="900" rx="30" ry="14" fill="#d2d2d2" opacity="0.75" transform="rotate(-15 184 900)"/>
<ellipse cx="214" cy="838" rx="18" ry="9" fill="#d2d2d2" opacity="0.7" transform="rotate(28 214 838)"/>
</g>
<ellipse cx="158.4" cy="777.2" rx="72.5" ry="60.5" fill="#a6a6a6" stroke="#bcbcbc" stroke-width="3.2"/>
<ellipse cx="159" cy="781" rx="63" ry="54" fill="url(#gIS)" stroke="#767676" stroke-width="5.5"/>
<ellipse cx="159" cy="781" rx="58" ry="49" fill="#a8a8a8" filter="url(#mott)" opacity="0.4"/>
<path d="M112,746 Q88,782 110,822" fill="none" stroke="#686868" stroke-width="9" stroke-linecap="round"/>
<path d="M118,742 Q150,722 196,738" fill="none" stroke="#6c6c6c" stroke-width="4.5" stroke-linecap="round"/>
<g filter="url(#bl3)">
<ellipse cx="117.5" cy="776" rx="6.5" ry="9" fill="#ececec" opacity="1"/>
<ellipse cx="148" cy="806" rx="40" ry="19" fill="#cecece" opacity="0.85"/>
</g>
<path d="M116,828 Q160,842 200,814" fill="none" stroke="#5a5a5a" stroke-width="8" stroke-linecap="round"/>
<ellipse cx="157" cy="686.3" rx="34.5" ry="35" fill="none" stroke="#b4b4b4" stroke-width="3" opacity="0.7" transform="rotate(-20 157 686.3)"/>
<ellipse cx="157.6" cy="686.5" rx="28" ry="30.5" fill="url(#gOS)" stroke="#747474" stroke-width="8.5" transform="rotate(-20 157.6 686.5)"/>
<path d="M148,657 Q122,672 131,700 Q138,714 152,718" fill="none" stroke="#666666" stroke-width="10" stroke-linecap="round"/>
<path d="M180,664 Q192,688 180,710" fill="none" stroke="#909090" stroke-width="8" opacity="0.9"/>
<ellipse cx="146.5" cy="686" rx="4.8" ry="12" fill="#f4f4f4" transform="rotate(-12 146.5 686)"/>
<ellipse cx="154.5" cy="701" rx="3.6" ry="6.5" fill="#ececec" transform="rotate(-30 154.5 701)"/>
<ellipse cx="167" cy="690" rx="8" ry="11" fill="#a6a6a6" opacity="0.7"/>
</g>
</g>
<rect x="101.80" y="1068.90" width="162.90" height="8.70" fill="#fff"/>
<text x="41.20" y="624.70" font-size="50" font-weight="bold" fill="#fff" text-anchor="start">b</text>
<line x1="166.50" y1="684.10" x2="297.00" y2="684.10" stroke="#2b2b2b" stroke-width="1.8" stroke-linecap="butt"/>
<line x1="197.50" y1="773.20" x2="299.50" y2="773.20" stroke="#2b2b2b" stroke-width="1.8" stroke-linecap="butt"/>
<line x1="202.80" y1="867.60" x2="330.00" y2="867.60" stroke="#2b2b2b" stroke-width="1.8" stroke-linecap="butt"/>
<line x1="107.40" y1="968.60" x2="288.50" y2="968.60" stroke="#2b2b2b" stroke-width="1.8" stroke-linecap="butt"/>
<line x1="469.00" y1="684.40" x2="541.00" y2="684.40" stroke="#2b2b2b" stroke-width="1.4" stroke-linecap="butt"/>
<line x1="469.00" y1="773.30" x2="558.20" y2="773.30" stroke="#2b2b2b" stroke-width="1.4" stroke-linecap="butt"/>
<polyline points="432.5,867 518.8,867 563,911.3" fill="none" stroke="#2b2b2b" stroke-width="1.6"/>
<polyline points="472.2,968.6 518.8,968.6 550.2,1000" fill="none" stroke="#2b2b2b" stroke-width="1.6"/>
<text x="381.35" y="690.60" font-size="22" font-weight="normal" fill="#161616" text-anchor="middle" textLength="149.8" lengthAdjust="spacingAndGlyphs" stroke="#161616" stroke-width="0.35" stroke-linejoin="round">outer segment</text>
<text x="381.70" y="780.40" font-size="22" font-weight="normal" fill="#161616" text-anchor="middle" textLength="147.89999999999998" lengthAdjust="spacingAndGlyphs" stroke="#161616" stroke-width="0.35" stroke-linejoin="round">inner segment</text>
<text x="381.75" y="874.60" font-size="22" font-weight="normal" fill="#161616" text-anchor="middle" textLength="78.0" lengthAdjust="spacingAndGlyphs" stroke="#161616" stroke-width="0.35" stroke-linejoin="round">nucleus</text>
<text x="381.00" y="973.70" font-size="22" font-weight="normal" fill="#161616" text-anchor="middle" textLength="161.5" lengthAdjust="spacingAndGlyphs" stroke="#161616" stroke-width="0.35" stroke-linejoin="round">synaptic ending</text>
<path d="M552.6,589.8 C548,589.6 545.5,591 544,594.5 C540,604 537,625 534,650 C531,675 529.5,690 526,712 C522.5,735 520.5,752 521.5,768 C522.5,785 527,798 531.5,810 C538,827 543,842 547.5,853 C551,861 555.5,866 554.5,872 C553.5,879 547,883 541,890 C535,897 533.5,906 534.5,915 C535.5,927 541,939 547,948 C552,955 552.5,962 551.5,970 C550.5,980 545,989 538.5,997 C534,1002.5 530,1006.5 529.3,1009.5 C528.8,1012.5 531.5,1013.5 534,1012 C537.5,1010 540,1007.5 542.5,1008.5 C545.5,1010 545.5,1017 548,1017.2 C551,1017.5 551,1006 555,1005.2 C558.5,1004.8 557.5,1016 560.8,1016.3 C564,1016.5 563.5,1007.5 567.5,1007.3 C571.5,1007.3 573,1015.5 576.7,1015.5 C580,1015.5 579,1009 582.5,1009 C586,1009 588,1015 592,1014.8 C595,1014.6 597.5,1012.5 596.8,1010.5 C594,1004 589,999 584.8,993 C579,985 574.5,979 573,972 C571.8,965 573.5,957.5 578.5,949.5 C584,941 589,934 590.8,925 C592.5,915 592,904 588.5,894.5 C585,885.5 576,880 572,873 C568.5,866.5 568.5,859 571.5,851 C575,842 582.5,833.5 588,825 C593,817 595.5,808 597,799 C599,787 600,776 600,762 C600,752 600,745 598.5,740 C596.5,733 591,729.3 584.5,729 L553,729 C549.5,729 547.2,728.3 547.2,726.5 C547.2,724.7 549.5,724.3 553,724.2 L579,723.6 C585.5,723.4 590,721.5 591.6,718.5" fill="none" stroke="#2b2b2b" stroke-width="1.6" stroke-linejoin="round" stroke-linecap="round"/>
<path d="M552.6,589.8 C556,589.8 559,590.5 560.3,593.5 C561.8,597 561,599.5 562.5,601 C564,602.5 566.5,603.5 566.6,605.5" fill="none" stroke="#2b2b2b" stroke-width="1.6" stroke-linecap="round"/>
<path d="M552.6,607.2 C556.5,612.5 562.7,612.0 565.6,605.5" fill="none" stroke="#2b2b2b" stroke-width="1.6" stroke-linecap="round"/>
<path d="M565.6,605.5 C568.2,608.6 570.6,612.5 568.6,615.1" fill="none" stroke="#2b2b2b" stroke-width="1.6" stroke-linecap="round"/>
<path d="M552.6,616.8 C557.4,621.7 565.1,621.2 568.6,615.2" fill="none" stroke="#2b2b2b" stroke-width="1.6" stroke-linecap="round"/>
<path d="M568.6,615.2 C571.2,618.1 573.6,621.7 571.6,624.1" fill="none" stroke="#2b2b2b" stroke-width="1.6" stroke-linecap="round"/>
<path d="M552.6,625.7 C558.3,631.0 567.4,630.5 571.6,624.0" fill="none" stroke="#2b2b2b" stroke-width="1.6" stroke-linecap="round"/>
<path d="M571.6,624.0 C574.2,627.1 576.0,631.0 574.0,633.6" fill="none" stroke="#2b2b2b" stroke-width="1.6" stroke-linecap="round"/>
<path d="M552.6,635.3 C559.0,640.6 569.3,640.1 574.0,633.6" fill="none" stroke="#2b2b2b" stroke-width="1.6" stroke-linecap="round"/>
<path d="M574.0,633.6 C576.6,636.8 578.3,640.6 576.3,643.3" fill="none" stroke="#2b2b2b" stroke-width="1.6" stroke-linecap="round"/>
<path d="M552.6,645.0 C559.7,651.6 571.1,651.0 576.3,642.8" fill="none" stroke="#2b2b2b" stroke-width="1.6" stroke-linecap="round"/>
<path d="M576.3,642.8 C578.9,646.8 580.7,651.6 578.7,654.8" fill="none" stroke="#2b2b2b" stroke-width="1.6" stroke-linecap="round"/>
<path d="M552.6,657.0 C560.4,664.1 573.0,663.5 578.7,654.7" fill="none" stroke="#2b2b2b" stroke-width="1.6" stroke-linecap="round"/>
<path d="M578.7,654.7 C581.3,658.9 583.9,664.1 581.9,667.6" fill="none" stroke="#2b2b2b" stroke-width="1.6" stroke-linecap="round"/>
<path d="M552.6,669.9 C561.4,675.7 575.5,675.1 581.9,668.0" fill="none" stroke="#2b2b2b" stroke-width="1.6" stroke-linecap="round"/>
<path d="M581.9,668.0 C584.5,671.5 586.3,675.7 584.3,678.5" fill="none" stroke="#2b2b2b" stroke-width="1.6" stroke-linecap="round"/>
<path d="M552.6,680.4 C562.1,685.7 577.3,685.2 584.3,678.7" fill="none" stroke="#2b2b2b" stroke-width="1.6" stroke-linecap="round"/>
<path d="M584.3,678.7 C586.9,681.8 588.7,685.7 586.7,688.3" fill="none" stroke="#2b2b2b" stroke-width="1.6" stroke-linecap="round"/>
<path d="M552.6,690.0 C562.8,695.3 579.2,694.9 586.7,688.3" fill="none" stroke="#2b2b2b" stroke-width="1.6" stroke-linecap="round"/>
<path d="M586.7,688.3 C589.3,691.5 590.4,695.3 588.4,698.0" fill="none" stroke="#2b2b2b" stroke-width="1.6" stroke-linecap="round"/>
<path d="M552.6,699.7 C563.3,706.7 580.5,706.1 588.4,697.4" fill="none" stroke="#2b2b2b" stroke-width="1.6" stroke-linecap="round"/>
<path d="M588.4,697.4 C591.0,701.6 592.2,706.7 590.2,710.2" fill="none" stroke="#2b2b2b" stroke-width="1.6" stroke-linecap="round"/>
<path d="M552.6,712.5 C563.9,717.7 581.9,717.2 590.2,710.8" fill="none" stroke="#2b2b2b" stroke-width="1.6" stroke-linecap="round"/>
<path d="M590.2,710.8 C592.8,714.5 593,716 591.6,718.5" fill="none" stroke="#2b2b2b" stroke-width="1.6" />
<path d="M566.6,605.5 C567.5,606.5 567,607 565.6,605.5" fill="none" stroke="#2b2b2b" stroke-width="1.6" />
<ellipse cx="563" cy="913.4" rx="17.4" ry="22.3" fill="#9fa0a0" stroke="#2b2b2b" stroke-width="1.6"/>
<line x1="545" y1="893.3" x2="563" y2="911.3" stroke="#2b2b2b" stroke-width="1.6"/>
</g>
<g id="panel-c">
<text x="41.00" y="1206.20" font-size="50" font-weight="bold" fill="#000" text-anchor="start">c</text>
<rect x="188.00" y="1284.50" width="144.00" height="313.50" fill="#000"/>
<rect x="223.75" y="1279.60" width="71.75" height="6.00" fill="#000"/>
<rect x="432.75" y="1268.50" width="143.00" height="329.50" fill="#d3d3d3" stroke="#1c1c1c" stroke-width="1.0"/>
<rect x="468.75" y="1262.60" width="71.25" height="5.60" fill="#000"/>
<line x1="130.30" y1="1258.15" x2="130.30" y2="1600.65" stroke="#000" stroke-width="5.3" stroke-linecap="butt"/>
<line x1="634.40" y1="1258.15" x2="634.40" y2="1600.65" stroke="#000" stroke-width="5.3" stroke-linecap="butt"/>
<line x1="120.75" y1="1598.00" x2="643.75" y2="1598.00" stroke="#000" stroke-width="5.3" stroke-linecap="butt"/>
<line x1="120.75" y1="1260.80" x2="130.30" y2="1260.80" stroke="#000" stroke-width="5.3" stroke-linecap="butt"/>
<line x1="634.40" y1="1260.80" x2="643.75" y2="1260.80" stroke="#000" stroke-width="5.3" stroke-linecap="butt"/>
<text x="116.50" y="1269.80" font-size="25.2" font-weight="normal" fill="#000" text-anchor="end" stroke="#000" stroke-width="1.2" stroke-linejoin="round">100</text>
<text x="650.60" y="1270.10" font-size="26" font-weight="normal" fill="#9c9ca1" text-anchor="start" stroke="#9c9ca1" stroke-width="1.1" stroke-linejoin="round">100</text>
<line x1="120.75" y1="1345.10" x2="130.30" y2="1345.10" stroke="#000" stroke-width="5.3" stroke-linecap="butt"/>
<line x1="634.40" y1="1345.10" x2="643.75" y2="1345.10" stroke="#000" stroke-width="5.3" stroke-linecap="butt"/>
<text x="116.50" y="1354.10" font-size="25.2" font-weight="normal" fill="#000" text-anchor="end" stroke="#000" stroke-width="1.2" stroke-linejoin="round">75</text>
<text x="650.60" y="1354.40" font-size="26" font-weight="normal" fill="#9c9ca1" text-anchor="start" stroke="#9c9ca1" stroke-width="1.1" stroke-linejoin="round">75</text>
<line x1="120.75" y1="1429.40" x2="130.30" y2="1429.40" stroke="#000" stroke-width="5.3" stroke-linecap="butt"/>
<line x1="634.40" y1="1429.40" x2="643.75" y2="1429.40" stroke="#000" stroke-width="5.3" stroke-linecap="butt"/>
<text x="116.50" y="1438.40" font-size="25.2" font-weight="normal" fill="#000" text-anchor="end" stroke="#000" stroke-width="1.2" stroke-linejoin="round">50</text>
<text x="650.60" y="1438.70" font-size="26" font-weight="normal" fill="#9c9ca1" text-anchor="start" stroke="#9c9ca1" stroke-width="1.1" stroke-linejoin="round">50</text>
<line x1="120.75" y1="1513.70" x2="130.30" y2="1513.70" stroke="#000" stroke-width="5.3" stroke-linecap="butt"/>
<line x1="634.40" y1="1513.70" x2="643.75" y2="1513.70" stroke="#000" stroke-width="5.3" stroke-linecap="butt"/>
<text x="116.50" y="1522.70" font-size="25.2" font-weight="normal" fill="#000" text-anchor="end" stroke="#000" stroke-width="1.2" stroke-linejoin="round">25</text>
<text x="650.60" y="1523.00" font-size="26" font-weight="normal" fill="#9c9ca1" text-anchor="start" stroke="#9c9ca1" stroke-width="1.1" stroke-linejoin="round">25</text>
<line x1="120.75" y1="1598.00" x2="130.30" y2="1598.00" stroke="#000" stroke-width="5.3" stroke-linecap="butt"/>
<line x1="634.40" y1="1598.00" x2="643.75" y2="1598.00" stroke="#000" stroke-width="5.3" stroke-linecap="butt"/>
<text x="116.50" y="1607.00" font-size="25.2" font-weight="normal" fill="#000" text-anchor="end" stroke="#000" stroke-width="1.2" stroke-linejoin="round">0</text>
<text x="650.60" y="1607.30" font-size="26" font-weight="normal" fill="#9c9ca1" text-anchor="start" stroke="#9c9ca1" stroke-width="1.1" stroke-linejoin="round">0</text>
<text x="255.60" y="1212.50" font-size="26" font-weight="normal" fill="#000" text-anchor="middle" textLength="64" lengthAdjust="spacingAndGlyphs" stroke="#000" stroke-width="1.3" stroke-linejoin="round">DAPI</text>
<text x="505.75" y="1212.50" font-size="26" font-weight="normal" fill="#000" text-anchor="middle" textLength="93" lengthAdjust="spacingAndGlyphs" stroke="#000" stroke-width="1.3" stroke-linejoin="round">Calcein</text>
<text x="255.75" y="1636.50" font-size="28.5" font-weight="normal" fill="#000" text-anchor="middle" textLength="179.5" lengthAdjust="spacingAndGlyphs" stroke="#000" stroke-width="1.5" stroke-linejoin="round">Cone arrestin</text>
<text x="254.55" y="1667.50" font-size="28.5" font-weight="normal" fill="#000" text-anchor="middle" textLength="164.5" lengthAdjust="spacingAndGlyphs" stroke="#000" stroke-width="1.5" stroke-linejoin="round">positive cells</text>
<text x="507.75" y="1636.50" font-size="28.5" font-weight="normal" fill="#000" text-anchor="middle" textLength="179.5" lengthAdjust="spacingAndGlyphs" stroke="#000" stroke-width="1.5" stroke-linejoin="round">Cone arrestin</text>
<text x="506.55" y="1667.50" font-size="28.5" font-weight="normal" fill="#000" text-anchor="middle" textLength="164.5" lengthAdjust="spacingAndGlyphs" stroke="#000" stroke-width="1.5" stroke-linejoin="round">positive cells</text>
<text transform="translate(26.40,1430.20) rotate(-90)" font-size="27.2" font-weight="normal" fill="#000" text-anchor="middle" textLength="261.5" lengthAdjust="spacingAndGlyphs" stroke="#000" stroke-width="1.3" stroke-linejoin="round">% of cells with DAPI</text>
<text transform="translate(60.20,1429.00) rotate(-90)" font-size="27.2" font-weight="normal" fill="#000" text-anchor="middle" textLength="210.5" lengthAdjust="spacingAndGlyphs" stroke="#000" stroke-width="1.3" stroke-linejoin="round">positive nucleus</text>
<text transform="translate(711.80,1430.00) rotate(90)" font-size="28" font-weight="normal" fill="#9c9ca1" text-anchor="middle" textLength="334" lengthAdjust="spacingAndGlyphs" stroke="#9c9ca1" stroke-width="1.1" stroke-linejoin="round">% of calcein positive cells</text>
</g>
<g id="panel-d">
<text x="40.70" y="1779.00" font-size="50" font-weight="bold" fill="#000" text-anchor="start">d</text>
<line x1="286.75" y1="1897.50" x2="286.75" y2="1914.00" stroke="#000" stroke-width="5.2" stroke-linecap="butt"/>
<rect x="248.75" y="1894.70" width="75.50" height="5.60" fill="#000"/>
<rect x="211.70" y="1913.70" width="150.30" height="237.60" fill="#808080" stroke="#222222" stroke-width="1.2"/>
<line x1="497.00" y1="2135.50" x2="497.00" y2="2143.00" stroke="#000" stroke-width="5.2" stroke-linecap="butt"/>
<rect x="459.00" y="2132.80" width="76.00" height="5.40" fill="#000"/>
<rect x="422.00" y="2142.60" width="150.20" height="8.70" fill="#353535" stroke="#2a2a2a" stroke-width="1.0"/>
<line x1="136.00" y1="1807.15" x2="136.00" y2="2154.15" stroke="#000" stroke-width="5.7" stroke-linecap="butt"/>
<line x1="126.25" y1="2151.30" x2="649.00" y2="2151.30" stroke="#000" stroke-width="5.7" stroke-linecap="butt"/>
<line x1="126.25" y1="1810.00" x2="136.00" y2="1810.00" stroke="#000" stroke-width="5.7" stroke-linecap="butt"/>
<text x="121.20" y="1819.00" font-size="25.2" font-weight="normal" fill="#000" text-anchor="end" stroke="#000" stroke-width="1.2" stroke-linejoin="round">50</text>
<line x1="126.25" y1="1980.65" x2="136.00" y2="1980.65" stroke="#000" stroke-width="5.7" stroke-linecap="butt"/>
<text x="121.20" y="1989.65" font-size="25.2" font-weight="normal" fill="#000" text-anchor="end" stroke="#000" stroke-width="1.2" stroke-linejoin="round">25</text>
<line x1="126.25" y1="2151.30" x2="136.00" y2="2151.30" stroke="#000" stroke-width="5.7" stroke-linecap="butt"/>
<text x="121.20" y="2160.30" font-size="25.2" font-weight="normal" fill="#000" text-anchor="end" stroke="#000" stroke-width="1.2" stroke-linejoin="round">0</text>
<line x1="286.50" y1="2151.30" x2="286.50" y2="2161.80" stroke="#000" stroke-width="5.4" stroke-linecap="butt"/>
<text x="285.50" y="2188.50" font-size="26.5" font-weight="normal" fill="#000" text-anchor="middle" textLength="99.0" lengthAdjust="spacingAndGlyphs" stroke="#000" stroke-width="1.4" stroke-linejoin="round">M-opsin</text>
<line x1="497.30" y1="2151.30" x2="497.30" y2="2161.80" stroke="#000" stroke-width="5.4" stroke-linecap="butt"/>
<text x="496.30" y="2188.50" font-size="26.5" font-weight="normal" fill="#000" text-anchor="middle" textLength="95.0" lengthAdjust="spacingAndGlyphs" stroke="#000" stroke-width="1.4" stroke-linejoin="round">S-opsin</text>
<text transform="translate(23.40,1980.50) rotate(-90)" font-size="27.2" font-weight="normal" fill="#000" text-anchor="middle" textLength="262" lengthAdjust="spacingAndGlyphs" stroke="#000" stroke-width="1.3" stroke-linejoin="round">% of cells with DAPI</text>
<text transform="translate(57.60,1980.00) rotate(-90)" font-size="27.2" font-weight="normal" fill="#000" text-anchor="middle" textLength="213" lengthAdjust="spacingAndGlyphs" stroke="#000" stroke-width="1.3" stroke-linejoin="round">positive nucleus</text>
</g>
</svg>
</body>
</html>
